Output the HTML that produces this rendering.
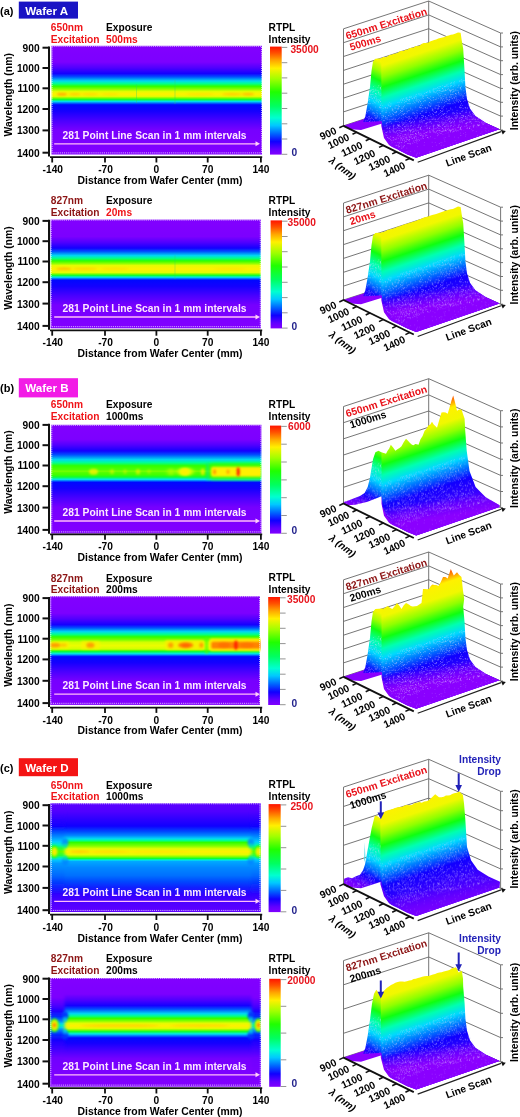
<!DOCTYPE html>
<html lang="en">
<head>
<meta charset="utf-8">
<title>RTPL line scans of wafers A, B and D</title>
<style>
html,body{margin:0;padding:0;background:#fff}
svg{display:block}
text{font-family:"Liberation Sans",sans-serif;font-weight:bold;font-size:10.2px}
</style>
</head>
<body>
<svg width="520" height="1117" viewBox="0 0 520 1117">
<defs>
<linearGradient id="cbar" x1="0" y1="0" x2="0" y2="1"><stop offset="0.0000" stop-color="#ff1400"/><stop offset="0.0600" stop-color="#ff5000"/><stop offset="0.1300" stop-color="#ffa800"/><stop offset="0.2000" stop-color="#fff000"/><stop offset="0.3000" stop-color="#a0ff00"/><stop offset="0.4200" stop-color="#20ff00"/><stop offset="0.5500" stop-color="#00ff60"/><stop offset="0.6600" stop-color="#00ffd0"/><stop offset="0.7300" stop-color="#00c8ff"/><stop offset="0.8100" stop-color="#0060ff"/><stop offset="0.8800" stop-color="#1000ff"/><stop offset="0.9500" stop-color="#6000ff"/><stop offset="1.0000" stop-color="#8000ff"/></linearGradient>
<filter id="b1" x="-30%" y="-60%" width="160%" height="220%"><feGaussianBlur stdDeviation="1.1"/></filter>
<filter id="b2" x="-30%" y="-60%" width="160%" height="220%"><feGaussianBlur stdDeviation="2 1.2"/></filter>
<clipPath id="hmclip"><rect x="50.4" y="45.8" width="210.2" height="108.7"/></clipPath>
<filter id="b3" x="-40%" y="-5%" width="180%" height="110%"><feGaussianBlur stdDeviation="1.6 .4"/></filter>
<linearGradient id="pin1" x1="0" y1="0" x2="0" y2="1"><stop offset="0.0000" stop-color="#5c00ff"/><stop offset="0.0754" stop-color="#5000ff"/><stop offset="0.1490" stop-color="#2c00ff"/><stop offset="0.2098" stop-color="#1000ff"/><stop offset="0.2594" stop-color="#0048ff"/><stop offset="0.3054" stop-color="#0088ff"/><stop offset="0.3514" stop-color="#00c8ff"/><stop offset="0.3836" stop-color="#00f0c0"/><stop offset="0.4112" stop-color="#20ff40"/><stop offset="0.4453" stop-color="#60ff00"/><stop offset="0.4802" stop-color="#20ff40"/><stop offset="0.5032" stop-color="#00f0c0"/><stop offset="0.5262" stop-color="#00c0ff"/><stop offset="0.5538" stop-color="#0098ff"/><stop offset="0.6090" stop-color="#0080ff"/><stop offset="0.6642" stop-color="#0068ff"/><stop offset="0.7194" stop-color="#0040ff"/><stop offset="0.7746" stop-color="#1020ff"/><stop offset="0.8390" stop-color="#3000ff"/><stop offset="0.9218" stop-color="#5000ff"/><stop offset="1.0000" stop-color="#6000ff"/></linearGradient>
<clipPath id="pin1c"><rect x="50.4" y="45.8" width="210.2" height="108.7"/></clipPath>
<linearGradient id="pin2" x1="0" y1="0" x2="0" y2="1"><stop offset="0.0000" stop-color="#8200ff"/><stop offset="0.1858" stop-color="#7c00ff"/><stop offset="0.2594" stop-color="#5000ff"/><stop offset="0.3146" stop-color="#2000ff"/><stop offset="0.3698" stop-color="#0030ff"/><stop offset="0.4066" stop-color="#0080ff"/><stop offset="0.4296" stop-color="#00d0f0"/><stop offset="0.4480" stop-color="#00f0c0"/><stop offset="0.4664" stop-color="#00d0f0"/><stop offset="0.4894" stop-color="#0080ff"/><stop offset="0.5262" stop-color="#0030ff"/><stop offset="0.5814" stop-color="#1400ff"/><stop offset="0.6642" stop-color="#4000ff"/><stop offset="0.7470" stop-color="#7000ff"/><stop offset="1.0000" stop-color="#8200ff"/></linearGradient>
<clipPath id="pin2c"><rect x="50.4" y="47.0" width="210.2" height="108.7"/></clipPath>
<linearGradient id="subg" gradientUnits="userSpaceOnUse" x1="375.00" y1="37.23" x2="333.91" y2="121.10"><stop offset="0.0000" stop-color="#ff1000"/><stop offset="0.0769" stop-color="#ff7800"/><stop offset="0.1442" stop-color="#fff000"/><stop offset="0.2115" stop-color="#f4f800"/><stop offset="0.2981" stop-color="#a0ff00"/><stop offset="0.3942" stop-color="#10ff10"/><stop offset="0.5096" stop-color="#00ffb0"/><stop offset="0.6250" stop-color="#00d8ff"/><stop offset="0.7212" stop-color="#0070ff"/><stop offset="0.8077" stop-color="#1000ff"/><stop offset="0.9038" stop-color="#6000ff"/><stop offset="1.0000" stop-color="#8a00ff"/></linearGradient>
<linearGradient id="surf" gradientUnits="userSpaceOnUse" x1="381.00" y1="36.00" x2="420.88" y2="156.84"><stop offset="0.0000" stop-color="#ff1000"/><stop offset="0.0672" stop-color="#ff7800"/><stop offset="0.1269" stop-color="#fff000"/><stop offset="0.2239" stop-color="#f0f800"/><stop offset="0.3060" stop-color="#90ff00"/><stop offset="0.3843" stop-color="#10ff10"/><stop offset="0.4627" stop-color="#00ffb0"/><stop offset="0.5328" stop-color="#00d8ff"/><stop offset="0.6119" stop-color="#0070ff"/><stop offset="0.6940" stop-color="#1000ff"/><stop offset="0.8507" stop-color="#4000ff"/><stop offset="1.0000" stop-color="#6000ff"/></linearGradient>
<linearGradient id="surfc" gradientUnits="userSpaceOnUse" x1="381.00" y1="36.00" x2="420.88" y2="156.84"><stop offset="0.0000" stop-color="#ff1000"/><stop offset="0.0672" stop-color="#ff7800"/><stop offset="0.1269" stop-color="#fff000"/><stop offset="0.2239" stop-color="#f0f800"/><stop offset="0.3060" stop-color="#90ff00"/><stop offset="0.3843" stop-color="#10ff10"/><stop offset="0.4627" stop-color="#00ffb0"/><stop offset="0.5328" stop-color="#00d8ff"/><stop offset="0.6119" stop-color="#0070ff"/><stop offset="0.6940" stop-color="#1000ff"/><stop offset="0.8507" stop-color="#4000ff"/><stop offset="1.0000" stop-color="#6000ff"/></linearGradient>
<clipPath id="subclip"><path d="M340 92L384 84V135H340Z"/></clipPath>
<linearGradient id="purp" gradientUnits="userSpaceOnUse" x1="381.00" y1="123.00" x2="383.57" y2="139.60"><stop offset="0" stop-color="#8a00ff" stop-opacity="0"/><stop offset=".5" stop-color="#8a00ff" stop-opacity=".55"/><stop offset="1" stop-color="#8a00ff" stop-opacity="1"/></linearGradient>
<linearGradient id="purpc" gradientUnits="userSpaceOnUse" x1="381.00" y1="138.00" x2="385.24" y2="165.34"><stop offset="0" stop-color="#7c00ff" stop-opacity="0"/><stop offset=".5" stop-color="#7c00ff" stop-opacity=".55"/><stop offset="1" stop-color="#7c00ff" stop-opacity="1"/></linearGradient>
<linearGradient id="purpb" gradientUnits="userSpaceOnUse" x1="381.00" y1="130.00" x2="383.88" y2="148.55"><stop offset="0" stop-color="#8a00ff" stop-opacity="0"/><stop offset=".5" stop-color="#8a00ff" stop-opacity=".55"/><stop offset="1" stop-color="#8a00ff" stop-opacity="1"/></linearGradient>
<pattern id="spk" width="40" height="40" patternUnits="userSpaceOnUse"><g fill="#e4dcff" fill-opacity=".6"><rect x="13.0" y="6.0" width=".65" height=".65"/><rect x="26.0" y="2.9" width=".65" height=".65"/><rect x="21.4" y="14.6" width=".65" height=".65"/><rect x="2.3" y="20.3" width=".65" height=".65"/><rect x="1.5" y="17.3" width=".65" height=".65"/><rect x="2.8" y="3.6" width=".65" height=".65"/><rect x="17.0" y="33.1" width=".65" height=".65"/><rect x="5.0" y="8.9" width=".65" height=".65"/><rect x="25.1" y="37.9" width=".65" height=".65"/><rect x="23.1" y="15.9" width=".65" height=".65"/><rect x="39.1" y="1.9" width=".65" height=".65"/><rect x="34.3" y="11.6" width=".65" height=".65"/><rect x="5.8" y="4.7" width=".65" height=".65"/><rect x="12.3" y="32.6" width=".65" height=".65"/><rect x="7.2" y="23.3" width=".65" height=".65"/><rect x="25.6" y="14.9" width=".65" height=".65"/><rect x="21.9" y="2.5" width=".65" height=".65"/><rect x="2.4" y="8.2" width=".65" height=".65"/><rect x="27.2" y="17.1" width=".65" height=".65"/><rect x="12.6" y="23.4" width=".65" height=".65"/><rect x="18.1" y="12.0" width=".65" height=".65"/><rect x="31.8" y="28.0" width=".65" height=".65"/><rect x="9.8" y="23.0" width=".65" height=".65"/><rect x="21.0" y="35.0" width=".65" height=".65"/><rect x="29.2" y="11.5" width=".65" height=".65"/><rect x="39.2" y="4.7" width=".65" height=".65"/><rect x="16.7" y="30.3" width=".65" height=".65"/><rect x="6.1" y="19.6" width=".65" height=".65"/><rect x="1.6" y="26.7" width=".65" height=".65"/><rect x="30.6" y="22.9" width=".65" height=".65"/><rect x="35.0" y="12.5" width=".65" height=".65"/><rect x="27.8" y="23.8" width=".65" height=".65"/><rect x="23.2" y="18.2" width=".65" height=".65"/><rect x="33.6" y="37.8" width=".65" height=".65"/><rect x="19.0" y="26.6" width=".65" height=".65"/><rect x="2.4" y="28.1" width=".65" height=".65"/><rect x="25.9" y="39.7" width=".65" height=".65"/><rect x="32.9" y="11.4" width=".65" height=".65"/><rect x="15.4" y="26.7" width=".65" height=".65"/><rect x="0.9" y="18.5" width=".65" height=".65"/><rect x="6.7" y="4.7" width=".65" height=".65"/><rect x="2.4" y="30.7" width=".65" height=".65"/><rect x="5.2" y="9.9" width=".65" height=".65"/><rect x="15.6" y="34.9" width=".65" height=".65"/><rect x="3.2" y="18.0" width=".65" height=".65"/><rect x="22.0" y="35.3" width=".65" height=".65"/><rect x="32.8" y="34.6" width=".65" height=".65"/><rect x="11.1" y="16.6" width=".65" height=".65"/><rect x="14.4" y="35.4" width=".65" height=".65"/><rect x="38.3" y="6.0" width=".65" height=".65"/><rect x="7.0" y="9.3" width=".65" height=".65"/><rect x="9.3" y="19.4" width=".65" height=".65"/><rect x="23.6" y="10.5" width=".65" height=".65"/><rect x="0.2" y="16.8" width=".65" height=".65"/><rect x="14.8" y="22.7" width=".65" height=".65"/><rect x="38.1" y="27.6" width=".65" height=".65"/><rect x="20.6" y="24.7" width=".65" height=".65"/><rect x="27.0" y="2.2" width=".65" height=".65"/><rect x="36.0" y="31.2" width=".65" height=".65"/><rect x="35.0" y="31.9" width=".65" height=".65"/><rect x="15.7" y="16.0" width=".65" height=".65"/><rect x="4.1" y="25.4" width=".65" height=".65"/><rect x="2.5" y="2.7" width=".65" height=".65"/><rect x="8.4" y="6.5" width=".65" height=".65"/><rect x="13.6" y="2.1" width=".65" height=".65"/><rect x="0.0" y="6.1" width=".65" height=".65"/><rect x="4.1" y="14.5" width=".65" height=".65"/><rect x="1.0" y="35.0" width=".65" height=".65"/><rect x="24.6" y="5.9" width=".65" height=".65"/><rect x="10.1" y="13.9" width=".65" height=".65"/><rect x="14.6" y="4.9" width=".65" height=".65"/><rect x="34.0" y="39.7" width=".65" height=".65"/><rect x="18.6" y="19.4" width=".65" height=".65"/><rect x="3.4" y="4.1" width=".65" height=".65"/><rect x="13.7" y="10.6" width=".65" height=".65"/><rect x="33.2" y="6.5" width=".65" height=".65"/><rect x="0.9" y="38.0" width=".65" height=".65"/><rect x="21.1" y="5.9" width=".65" height=".65"/><rect x="21.7" y="1.1" width=".65" height=".65"/><rect x="21.1" y="39.1" width=".65" height=".65"/><rect x="34.5" y="27.8" width=".65" height=".65"/><rect x="10.4" y="14.7" width=".65" height=".65"/><rect x="6.7" y="30.9" width=".65" height=".65"/><rect x="21.3" y="31.2" width=".65" height=".65"/><rect x="13.2" y="8.9" width=".65" height=".65"/><rect x="32.5" y="39.4" width=".65" height=".65"/><rect x="34.1" y="32.2" width=".65" height=".65"/><rect x="32.7" y="29.6" width=".65" height=".65"/><rect x="9.1" y="20.7" width=".65" height=".65"/><rect x="14.2" y="1.2" width=".65" height=".65"/><rect x="1.1" y="11.2" width=".65" height=".65"/><rect x="10.4" y="27.7" width=".65" height=".65"/><rect x="38.3" y="17.9" width=".65" height=".65"/><rect x="37.5" y="39.5" width=".65" height=".65"/><rect x="38.2" y="14.6" width=".65" height=".65"/><rect x="8.8" y="9.1" width=".65" height=".65"/><rect x="7.9" y="8.2" width=".65" height=".65"/><rect x="25.0" y="36.0" width=".65" height=".65"/><rect x="33.6" y="19.2" width=".65" height=".65"/><rect x="26.1" y="32.0" width=".65" height=".65"/><rect x="3.4" y="26.4" width=".65" height=".65"/><rect x="36.4" y="31.3" width=".65" height=".65"/><rect x="30.0" y="19.1" width=".65" height=".65"/><rect x="7.1" y="31.6" width=".65" height=".65"/><rect x="13.3" y="32.0" width=".65" height=".65"/><rect x="38.9" y="15.8" width=".65" height=".65"/><rect x="16.1" y="37.9" width=".65" height=".65"/><rect x="29.0" y="6.8" width=".65" height=".65"/><rect x="5.1" y="6.0" width=".65" height=".65"/><rect x="36.2" y="32.3" width=".65" height=".65"/><rect x="5.8" y="33.1" width=".65" height=".65"/><rect x="39.2" y="26.3" width=".65" height=".65"/><rect x="14.0" y="21.9" width=".65" height=".65"/><rect x="5.2" y="0.6" width=".65" height=".65"/><rect x="38.8" y="26.0" width=".65" height=".65"/><rect x="21.1" y="37.3" width=".65" height=".65"/><rect x="17.4" y="34.9" width=".65" height=".65"/><rect x="33.0" y="8.4" width=".65" height=".65"/><rect x="10.1" y="11.7" width=".65" height=".65"/><rect x="9.6" y="23.5" width=".65" height=".65"/><rect x="10.4" y="16.8" width=".65" height=".65"/><rect x="5.2" y="36.4" width=".65" height=".65"/><rect x="14.2" y="18.3" width=".65" height=".65"/><rect x="23.3" y="36.2" width=".65" height=".65"/><rect x="16.8" y="36.7" width=".65" height=".65"/><rect x="20.1" y="21.3" width=".65" height=".65"/><rect x="20.9" y="0.7" width=".65" height=".65"/><rect x="17.6" y="7.3" width=".65" height=".65"/><rect x="0.2" y="32.0" width=".65" height=".65"/><rect x="6.9" y="18.9" width=".65" height=".65"/><rect x="29.0" y="22.3" width=".65" height=".65"/><rect x="13.0" y="20.7" width=".65" height=".65"/><rect x="22.2" y="31.4" width=".65" height=".65"/><rect x="4.2" y="22.4" width=".65" height=".65"/><rect x="9.9" y="11.1" width=".65" height=".65"/><rect x="30.9" y="20.3" width=".65" height=".65"/><rect x="22.5" y="30.4" width=".65" height=".65"/><rect x="36.5" y="17.7" width=".65" height=".65"/><rect x="24.5" y="20.2" width=".65" height=".65"/><rect x="20.5" y="27.7" width=".65" height=".65"/><rect x="18.1" y="21.3" width=".65" height=".65"/><rect x="19.1" y="37.7" width=".65" height=".65"/><rect x="28.0" y="35.1" width=".65" height=".65"/><rect x="37.7" y="10.4" width=".65" height=".65"/><rect x="22.4" y="37.7" width=".65" height=".65"/><rect x="33.6" y="5.5" width=".65" height=".65"/><rect x="4.9" y="17.7" width=".65" height=".65"/><rect x="2.9" y="9.6" width=".65" height=".65"/><rect x="2.9" y="26.8" width=".65" height=".65"/><rect x="31.4" y="35.9" width=".65" height=".65"/><rect x="6.2" y="28.6" width=".65" height=".65"/><rect x="26.4" y="5.7" width=".65" height=".65"/><rect x="35.3" y="38.7" width=".65" height=".65"/><rect x="8.8" y="38.1" width=".65" height=".65"/><rect x="15.9" y="19.5" width=".65" height=".65"/><rect x="39.6" y="33.3" width=".65" height=".65"/><rect x="6.5" y="17.3" width=".65" height=".65"/><rect x="20.6" y="13.6" width=".65" height=".65"/><rect x="7.8" y="12.7" width=".65" height=".65"/><rect x="28.9" y="0.8" width=".65" height=".65"/><rect x="22.2" y="17.6" width=".65" height=".65"/><rect x="0.7" y="13.3" width=".65" height=".65"/><rect x="25.0" y="20.5" width=".65" height=".65"/><rect x="2.6" y="39.4" width=".65" height=".65"/><rect x="31.5" y="38.9" width=".65" height=".65"/><rect x="4.2" y="10.6" width=".65" height=".65"/><rect x="1.6" y="31.2" width=".65" height=".65"/><rect x="10.8" y="5.2" width=".65" height=".65"/><rect x="16.9" y="36.5" width=".65" height=".65"/><rect x="32.8" y="10.3" width=".65" height=".65"/><rect x="6.0" y="36.8" width=".65" height=".65"/><rect x="22.8" y="28.0" width=".65" height=".65"/><rect x="3.6" y="2.3" width=".65" height=".65"/><rect x="27.5" y="17.0" width=".65" height=".65"/><rect x="2.9" y="37.5" width=".65" height=".65"/><rect x="25.4" y="32.1" width=".65" height=".65"/><rect x="3.3" y="34.2" width=".65" height=".65"/><rect x="2.7" y="34.5" width=".65" height=".65"/><rect x="18.2" y="13.6" width=".65" height=".65"/><rect x="22.1" y="37.1" width=".65" height=".65"/><rect x="10.7" y="5.2" width=".65" height=".65"/><rect x="21.1" y="9.5" width=".65" height=".65"/><rect x="4.4" y="6.5" width=".65" height=".65"/><rect x="2.0" y="8.1" width=".65" height=".65"/><rect x="12.5" y="12.2" width=".65" height=".65"/><rect x="30.4" y="11.6" width=".65" height=".65"/><rect x="20.0" y="7.1" width=".65" height=".65"/><rect x="13.9" y="0.7" width=".65" height=".65"/><rect x="10.0" y="0.6" width=".65" height=".65"/><rect x="29.3" y="22.0" width=".65" height=".65"/><rect x="7.6" y="19.0" width=".65" height=".65"/><rect x="37.4" y="4.3" width=".65" height=".65"/><rect x="32.8" y="17.3" width=".65" height=".65"/><rect x="19.8" y="33.4" width=".65" height=".65"/><rect x="15.7" y="20.3" width=".65" height=".65"/><rect x="27.5" y="39.3" width=".65" height=".65"/><rect x="13.7" y="33.3" width=".65" height=".65"/><rect x="28.3" y="25.4" width=".65" height=".65"/><rect x="16.2" y="13.9" width=".65" height=".65"/><rect x="2.2" y="5.2" width=".65" height=".65"/><rect x="2.8" y="29.6" width=".65" height=".65"/><rect x="10.2" y="6.5" width=".65" height=".65"/><rect x="3.4" y="33.7" width=".65" height=".65"/><rect x="34.8" y="26.8" width=".65" height=".65"/><rect x="11.3" y="9.7" width=".65" height=".65"/><rect x="11.7" y="18.4" width=".65" height=".65"/><rect x="6.3" y="17.8" width=".65" height=".65"/><rect x="10.5" y="38.5" width=".65" height=".65"/><rect x="38.9" y="21.9" width=".65" height=".65"/><rect x="9.8" y="38.6" width=".65" height=".65"/><rect x="12.4" y="14.3" width=".65" height=".65"/><rect x="0.0" y="15.3" width=".65" height=".65"/><rect x="19.0" y="20.1" width=".65" height=".65"/><rect x="8.0" y="20.2" width=".65" height=".65"/><rect x="0.2" y="10.6" width=".65" height=".65"/><rect x="3.6" y="16.0" width=".65" height=".65"/><rect x="1.7" y="0.9" width=".65" height=".65"/><rect x="12.2" y="9.3" width=".65" height=".65"/><rect x="23.4" y="21.2" width=".65" height=".65"/><rect x="30.0" y="26.3" width=".65" height=".65"/><rect x="28.6" y="35.2" width=".65" height=".65"/><rect x="15.6" y="13.0" width=".65" height=".65"/><rect x="39.4" y="6.0" width=".65" height=".65"/><rect x="29.0" y="25.7" width=".65" height=".65"/><rect x="1.8" y="33.4" width=".65" height=".65"/><rect x="35.7" y="25.1" width=".65" height=".65"/><rect x="29.4" y="32.5" width=".65" height=".65"/><rect x="5.6" y="21.0" width=".65" height=".65"/><rect x="20.2" y="33.4" width=".65" height=".65"/><rect x="32.2" y="33.1" width=".65" height=".65"/><rect x="23.4" y="35.7" width=".65" height=".65"/><rect x="27.3" y="27.7" width=".65" height=".65"/><rect x="9.2" y="1.2" width=".65" height=".65"/><rect x="5.3" y="14.4" width=".65" height=".65"/><rect x="4.2" y="33.4" width=".65" height=".65"/><rect x="22.3" y="25.1" width=".65" height=".65"/><rect x="25.0" y="27.2" width=".65" height=".65"/><rect x="19.6" y="0.1" width=".65" height=".65"/><rect x="31.9" y="29.9" width=".65" height=".65"/><rect x="20.1" y="21.4" width=".65" height=".65"/><rect x="26.4" y="2.6" width=".65" height=".65"/><rect x="29.5" y="10.1" width=".65" height=".65"/><rect x="3.0" y="10.6" width=".65" height=".65"/><rect x="29.2" y="8.2" width=".65" height=".65"/><rect x="29.6" y="39.0" width=".65" height=".65"/><rect x="19.8" y="15.3" width=".65" height=".65"/><rect x="19.2" y="27.3" width=".65" height=".65"/><rect x="30.7" y="24.7" width=".65" height=".65"/><rect x="25.7" y="3.1" width=".65" height=".65"/><rect x="5.9" y="10.2" width=".65" height=".65"/><rect x="29.7" y="12.2" width=".65" height=".65"/><rect x="22.7" y="0.5" width=".65" height=".65"/><rect x="2.4" y="10.8" width=".65" height=".65"/><rect x="26.9" y="27.7" width=".65" height=".65"/><rect x="27.0" y="11.6" width=".65" height=".65"/><rect x="20.7" y="18.6" width=".65" height=".65"/><rect x="18.7" y="4.7" width=".65" height=".65"/><rect x="35.7" y="8.0" width=".65" height=".65"/><rect x="39.1" y="37.5" width=".65" height=".65"/><rect x="0.7" y="18.4" width=".65" height=".65"/><rect x="32.8" y="38.7" width=".65" height=".65"/><rect x="18.0" y="10.7" width=".65" height=".65"/><rect x="8.4" y="37.8" width=".65" height=".65"/><rect x="8.4" y="23.3" width=".65" height=".65"/><rect x="5.7" y="21.0" width=".65" height=".65"/><rect x="38.1" y="5.3" width=".65" height=".65"/><rect x="32.8" y="20.3" width=".65" height=".65"/><rect x="35.5" y="28.1" width=".65" height=".65"/><rect x="9.3" y="35.9" width=".65" height=".65"/><rect x="19.4" y="1.0" width=".65" height=".65"/><rect x="0.1" y="19.7" width=".65" height=".65"/><rect x="18.0" y="12.1" width=".65" height=".65"/><rect x="5.6" y="13.8" width=".65" height=".65"/><rect x="12.6" y="33.6" width=".65" height=".65"/><rect x="0.1" y="30.0" width=".65" height=".65"/><rect x="33.6" y="4.8" width=".65" height=".65"/><rect x="37.1" y="28.5" width=".65" height=".65"/><rect x="36.1" y="11.6" width=".65" height=".65"/><rect x="14.9" y="15.7" width=".65" height=".65"/><rect x="40.0" y="23.6" width=".65" height=".65"/><rect x="14.4" y="17.1" width=".65" height=".65"/><rect x="11.0" y="1.9" width=".65" height=".65"/><rect x="4.1" y="33.4" width=".65" height=".65"/><rect x="11.4" y="37.4" width=".65" height=".65"/><rect x="10.0" y="10.6" width=".65" height=".65"/><rect x="20.4" y="7.6" width=".65" height=".65"/><rect x="14.9" y="38.2" width=".65" height=".65"/><rect x="35.4" y="32.5" width=".65" height=".65"/><rect x="25.2" y="36.5" width=".65" height=".65"/><rect x="37.6" y="22.0" width=".65" height=".65"/><rect x="28.8" y="2.0" width=".65" height=".65"/><rect x="29.3" y="18.0" width=".65" height=".65"/><rect x="30.1" y="25.8" width=".65" height=".65"/><rect x="11.4" y="2.0" width=".65" height=".65"/><rect x="37.1" y="5.1" width=".65" height=".65"/><rect x="18.9" y="13.7" width=".65" height=".65"/><rect x="11.9" y="29.6" width=".65" height=".65"/><rect x="39.1" y="10.4" width=".65" height=".65"/><rect x="26.2" y="12.0" width=".65" height=".65"/><rect x="22.3" y="15.8" width=".65" height=".65"/><rect x="6.7" y="6.5" width=".65" height=".65"/><rect x="8.3" y="36.2" width=".65" height=".65"/><rect x="19.9" y="8.8" width=".65" height=".65"/><rect x="36.3" y="39.9" width=".65" height=".65"/><rect x="18.0" y="5.6" width=".65" height=".65"/><rect x="7.7" y="3.6" width=".65" height=".65"/><rect x="13.7" y="3.6" width=".65" height=".65"/><rect x="9.6" y="10.3" width=".65" height=".65"/><rect x="22.8" y="35.5" width=".65" height=".65"/><rect x="30.0" y="16.5" width=".65" height=".65"/><rect x="16.6" y="21.0" width=".65" height=".65"/><rect x="15.1" y="13.5" width=".65" height=".65"/><rect x="2.5" y="11.1" width=".65" height=".65"/><rect x="38.7" y="5.0" width=".65" height=".65"/><rect x="20.1" y="25.2" width=".65" height=".65"/><rect x="34.5" y="8.6" width=".65" height=".65"/><rect x="10.8" y="9.9" width=".65" height=".65"/><rect x="16.0" y="17.8" width=".65" height=".65"/><rect x="38.2" y="33.9" width=".65" height=".65"/><rect x="34.9" y="0.9" width=".65" height=".65"/><rect x="1.3" y="28.4" width=".65" height=".65"/><rect x="35.8" y="18.9" width=".65" height=".65"/><rect x="23.5" y="0.0" width=".65" height=".65"/><rect x="15.7" y="37.1" width=".65" height=".65"/><rect x="33.0" y="34.2" width=".65" height=".65"/><rect x="38.9" y="9.9" width=".65" height=".65"/><rect x="4.4" y="6.2" width=".65" height=".65"/><rect x="20.9" y="27.3" width=".65" height=".65"/><rect x="37.7" y="28.9" width=".65" height=".65"/><rect x="25.9" y="30.6" width=".65" height=".65"/><rect x="18.3" y="22.1" width=".65" height=".65"/><rect x="1.6" y="31.3" width=".65" height=".65"/><rect x="9.3" y="36.8" width=".65" height=".65"/><rect x="25.8" y="12.2" width=".65" height=".65"/><rect x="5.1" y="10.1" width=".65" height=".65"/><rect x="25.5" y="27.9" width=".65" height=".65"/><rect x="4.5" y="2.8" width=".65" height=".65"/><rect x="21.0" y="23.3" width=".65" height=".65"/><rect x="15.5" y="8.9" width=".65" height=".65"/><rect x="24.0" y="0.4" width=".65" height=".65"/><rect x="12.1" y="18.4" width=".65" height=".65"/><rect x="38.4" y="25.8" width=".65" height=".65"/><rect x="35.4" y="19.0" width=".65" height=".65"/><rect x="9.4" y="9.9" width=".65" height=".65"/><rect x="38.4" y="28.2" width=".65" height=".65"/><rect x="12.3" y="0.9" width=".65" height=".65"/><rect x="19.9" y="27.0" width=".65" height=".65"/><rect x="16.8" y="10.3" width=".65" height=".65"/><rect x="26.7" y="37.0" width=".65" height=".65"/><rect x="9.1" y="1.4" width=".65" height=".65"/><rect x="13.5" y="16.8" width=".65" height=".65"/><rect x="27.3" y="7.9" width=".65" height=".65"/><rect x="31.9" y="29.6" width=".65" height=".65"/><rect x="20.2" y="8.2" width=".65" height=".65"/><rect x="38.8" y="12.5" width=".65" height=".65"/><rect x="32.8" y="9.2" width=".65" height=".65"/><rect x="8.9" y="30.4" width=".65" height=".65"/><rect x="11.8" y="38.1" width=".65" height=".65"/><rect x="19.8" y="7.5" width=".65" height=".65"/><rect x="8.9" y="16.7" width=".65" height=".65"/><rect x="26.6" y="38.0" width=".65" height=".65"/><rect x="5.9" y="15.7" width=".65" height=".65"/><rect x="8.5" y="39.0" width=".65" height=".65"/><rect x="5.7" y="2.1" width=".65" height=".65"/><rect x="2.4" y="15.7" width=".65" height=".65"/><rect x="35.9" y="35.3" width=".65" height=".65"/><rect x="29.3" y="39.9" width=".65" height=".65"/><rect x="37.3" y="13.2" width=".65" height=".65"/><rect x="7.4" y="37.4" width=".65" height=".65"/><rect x="29.9" y="1.3" width=".65" height=".65"/><rect x="26.6" y="15.1" width=".65" height=".65"/><rect x="15.0" y="13.3" width=".65" height=".65"/><rect x="6.8" y="0.1" width=".65" height=".65"/><rect x="11.2" y="14.1" width=".65" height=".65"/><rect x="38.2" y="4.9" width=".65" height=".65"/><rect x="38.6" y="8.3" width=".65" height=".65"/><rect x="14.3" y="32.9" width=".65" height=".65"/><rect x="32.9" y="17.3" width=".65" height=".65"/><rect x="2.0" y="18.9" width=".65" height=".65"/><rect x="14.9" y="36.8" width=".65" height=".65"/><rect x="7.7" y="14.6" width=".65" height=".65"/><rect x="35.9" y="1.2" width=".65" height=".65"/><rect x="16.4" y="32.5" width=".65" height=".65"/><rect x="30.7" y="1.6" width=".65" height=".65"/><rect x="1.4" y="2.5" width=".65" height=".65"/><rect x="36.8" y="10.3" width=".65" height=".65"/><rect x="29.9" y="35.9" width=".65" height=".65"/><rect x="13.6" y="10.9" width=".65" height=".65"/><rect x="38.3" y="24.7" width=".65" height=".65"/><rect x="10.5" y="28.7" width=".65" height=".65"/><rect x="12.7" y="11.0" width=".65" height=".65"/><rect x="0.2" y="30.2" width=".65" height=".65"/><rect x="36.7" y="25.4" width=".65" height=".65"/><rect x="37.7" y="1.0" width=".65" height=".65"/><rect x="9.4" y="19.0" width=".65" height=".65"/><rect x="38.3" y="38.2" width=".65" height=".65"/><rect x="15.5" y="10.0" width=".65" height=".65"/><rect x="17.2" y="19.7" width=".65" height=".65"/><rect x="37.1" y="7.3" width=".65" height=".65"/><rect x="32.1" y="29.5" width=".65" height=".65"/><rect x="32.9" y="30.9" width=".65" height=".65"/><rect x="24.3" y="13.1" width=".65" height=".65"/><rect x="12.8" y="14.5" width=".65" height=".65"/><rect x="31.3" y="3.2" width=".65" height=".65"/><rect x="7.9" y="30.1" width=".65" height=".65"/><rect x="9.9" y="2.6" width=".65" height=".65"/><rect x="1.4" y="22.1" width=".65" height=".65"/><rect x="13.0" y="39.2" width=".65" height=".65"/><rect x="35.3" y="39.5" width=".65" height=".65"/><rect x="10.6" y="3.4" width=".65" height=".65"/><rect x="3.9" y="19.9" width=".65" height=".65"/><rect x="28.4" y="17.9" width=".65" height=".65"/><rect x="9.4" y="16.7" width=".65" height=".65"/><rect x="24.8" y="27.0" width=".65" height=".65"/><rect x="29.9" y="33.9" width=".65" height=".65"/><rect x="26.6" y="4.8" width=".65" height=".65"/><rect x="33.6" y="11.8" width=".65" height=".65"/><rect x="22.7" y="14.9" width=".65" height=".65"/><rect x="29.5" y="8.0" width=".65" height=".65"/><rect x="9.9" y="9.8" width=".65" height=".65"/></g></pattern>
<pattern id="spk2" width="40" height="40" patternUnits="userSpaceOnUse"><g fill="#e4dcff" fill-opacity=".32"><rect x="6.1" y="35.4" width=".65" height=".65"/><rect x="23.1" y="13.1" width=".65" height=".65"/><rect x="15.8" y="39.7" width=".65" height=".65"/><rect x="20.3" y="9.3" width=".65" height=".65"/><rect x="32.3" y="26.1" width=".65" height=".65"/><rect x="39.6" y="4.1" width=".65" height=".65"/><rect x="19.0" y="32.8" width=".65" height=".65"/><rect x="33.6" y="36.6" width=".65" height=".65"/><rect x="1.6" y="11.7" width=".65" height=".65"/><rect x="4.8" y="7.6" width=".65" height=".65"/><rect x="38.9" y="23.3" width=".65" height=".65"/><rect x="37.2" y="14.9" width=".65" height=".65"/><rect x="34.6" y="18.0" width=".65" height=".65"/><rect x="10.4" y="31.1" width=".65" height=".65"/><rect x="37.8" y="4.2" width=".65" height=".65"/><rect x="23.8" y="24.8" width=".65" height=".65"/><rect x="8.7" y="14.7" width=".65" height=".65"/><rect x="5.7" y="8.2" width=".65" height=".65"/><rect x="10.2" y="24.0" width=".65" height=".65"/><rect x="26.1" y="8.1" width=".65" height=".65"/><rect x="0.5" y="13.1" width=".65" height=".65"/><rect x="27.1" y="7.4" width=".65" height=".65"/><rect x="12.5" y="8.1" width=".65" height=".65"/><rect x="31.8" y="21.9" width=".65" height=".65"/><rect x="2.5" y="4.1" width=".65" height=".65"/><rect x="15.8" y="22.0" width=".65" height=".65"/><rect x="25.6" y="3.6" width=".65" height=".65"/><rect x="6.5" y="27.8" width=".65" height=".65"/><rect x="16.4" y="11.3" width=".65" height=".65"/><rect x="12.3" y="38.1" width=".65" height=".65"/><rect x="12.5" y="22.7" width=".65" height=".65"/><rect x="14.3" y="16.7" width=".65" height=".65"/><rect x="34.6" y="39.9" width=".65" height=".65"/><rect x="14.6" y="7.9" width=".65" height=".65"/><rect x="29.1" y="8.1" width=".65" height=".65"/><rect x="0.2" y="36.1" width=".65" height=".65"/><rect x="17.0" y="32.8" width=".65" height=".65"/><rect x="16.2" y="35.3" width=".65" height=".65"/><rect x="18.4" y="6.5" width=".65" height=".65"/><rect x="0.6" y="22.1" width=".65" height=".65"/><rect x="25.6" y="36.4" width=".65" height=".65"/><rect x="3.6" y="24.9" width=".65" height=".65"/><rect x="14.8" y="20.2" width=".65" height=".65"/><rect x="5.8" y="11.3" width=".65" height=".65"/><rect x="20.8" y="37.0" width=".65" height=".65"/><rect x="4.4" y="19.6" width=".65" height=".65"/><rect x="32.2" y="38.7" width=".65" height=".65"/><rect x="7.9" y="5.1" width=".65" height=".65"/><rect x="37.7" y="39.0" width=".65" height=".65"/><rect x="19.3" y="2.1" width=".65" height=".65"/><rect x="37.0" y="15.5" width=".65" height=".65"/><rect x="36.2" y="24.8" width=".65" height=".65"/><rect x="33.0" y="6.4" width=".65" height=".65"/><rect x="31.4" y="8.9" width=".65" height=".65"/><rect x="16.2" y="33.9" width=".65" height=".65"/><rect x="33.2" y="7.3" width=".65" height=".65"/><rect x="8.7" y="16.0" width=".65" height=".65"/><rect x="20.7" y="15.3" width=".65" height=".65"/><rect x="4.9" y="9.9" width=".65" height=".65"/><rect x="29.0" y="35.9" width=".65" height=".65"/><rect x="1.6" y="22.5" width=".65" height=".65"/><rect x="30.3" y="1.5" width=".65" height=".65"/><rect x="33.5" y="4.7" width=".65" height=".65"/><rect x="24.0" y="22.0" width=".65" height=".65"/><rect x="25.1" y="12.2" width=".65" height=".65"/><rect x="16.8" y="23.3" width=".65" height=".65"/><rect x="17.0" y="26.4" width=".65" height=".65"/><rect x="17.9" y="17.5" width=".65" height=".65"/><rect x="0.9" y="24.8" width=".65" height=".65"/><rect x="19.6" y="9.4" width=".65" height=".65"/><rect x="30.5" y="31.2" width=".65" height=".65"/><rect x="18.3" y="7.2" width=".65" height=".65"/><rect x="18.9" y="4.3" width=".65" height=".65"/><rect x="5.1" y="17.2" width=".65" height=".65"/><rect x="3.7" y="17.7" width=".65" height=".65"/><rect x="20.4" y="1.6" width=".65" height=".65"/><rect x="25.5" y="3.3" width=".65" height=".65"/><rect x="29.3" y="31.1" width=".65" height=".65"/><rect x="20.5" y="2.2" width=".65" height=".65"/><rect x="20.2" y="15.1" width=".65" height=".65"/><rect x="38.0" y="5.4" width=".65" height=".65"/><rect x="34.3" y="39.8" width=".65" height=".65"/><rect x="29.3" y="32.6" width=".65" height=".65"/><rect x="7.7" y="39.3" width=".65" height=".65"/><rect x="19.7" y="38.3" width=".65" height=".65"/><rect x="36.6" y="6.6" width=".65" height=".65"/><rect x="31.5" y="37.2" width=".65" height=".65"/><rect x="2.6" y="14.0" width=".65" height=".65"/><rect x="30.2" y="6.4" width=".65" height=".65"/><rect x="35.9" y="11.0" width=".65" height=".65"/><rect x="32.6" y="5.7" width=".65" height=".65"/><rect x="20.1" y="36.8" width=".65" height=".65"/><rect x="8.3" y="10.5" width=".65" height=".65"/><rect x="20.2" y="12.8" width=".65" height=".65"/><rect x="1.5" y="7.3" width=".65" height=".65"/><rect x="6.4" y="37.5" width=".65" height=".65"/><rect x="27.2" y="35.8" width=".65" height=".65"/><rect x="6.7" y="31.4" width=".65" height=".65"/><rect x="4.6" y="21.2" width=".65" height=".65"/><rect x="25.5" y="14.4" width=".65" height=".65"/><rect x="34.9" y="22.2" width=".65" height=".65"/><rect x="23.2" y="35.3" width=".65" height=".65"/><rect x="4.2" y="39.7" width=".65" height=".65"/><rect x="25.2" y="15.8" width=".65" height=".65"/><rect x="31.9" y="10.6" width=".65" height=".65"/><rect x="39.6" y="23.1" width=".65" height=".65"/><rect x="14.4" y="30.6" width=".65" height=".65"/><rect x="17.7" y="7.1" width=".65" height=".65"/><rect x="29.7" y="1.9" width=".65" height=".65"/><rect x="32.8" y="10.1" width=".65" height=".65"/></g></pattern>
<linearGradient id="hg0" x1="0" y1="0" x2="0" y2="1"><stop offset="0.0000" stop-color="#8200ff"/><stop offset="0.1490" stop-color="#7c00ff"/><stop offset="0.2019" stop-color="#5000ff"/><stop offset="0.2548" stop-color="#1400ff"/><stop offset="0.2859" stop-color="#0050ff"/><stop offset="0.3238" stop-color="#00d8f0"/><stop offset="0.3482" stop-color="#00ff90"/><stop offset="0.3726" stop-color="#30ff00"/><stop offset="0.3970" stop-color="#80ff00"/><stop offset="0.4213" stop-color="#e4fc00"/><stop offset="0.4434" stop-color="#fff000"/><stop offset="0.4655" stop-color="#e4fc00"/><stop offset="0.4802" stop-color="#80ff00"/><stop offset="0.4949" stop-color="#10ff30"/><stop offset="0.5106" stop-color="#00e8e8"/><stop offset="0.5267" stop-color="#0070ff"/><stop offset="0.5428" stop-color="#0008ff"/><stop offset="0.6003" stop-color="#1400ff"/><stop offset="0.6854" stop-color="#4800ff"/><stop offset="0.7728" stop-color="#7600ff"/><stop offset="1.0000" stop-color="#8200ff"/></linearGradient>
<linearGradient id="hg1" x1="0" y1="0" x2="0" y2="1"><stop offset="0.0000" stop-color="#8200ff"/><stop offset="0.1564" stop-color="#7c00ff"/><stop offset="0.2093" stop-color="#5000ff"/><stop offset="0.2622" stop-color="#1400ff"/><stop offset="0.2932" stop-color="#0050ff"/><stop offset="0.3312" stop-color="#00d8f0"/><stop offset="0.3556" stop-color="#00ff90"/><stop offset="0.3799" stop-color="#30ff00"/><stop offset="0.4011" stop-color="#80ff00"/><stop offset="0.4223" stop-color="#e4fc00"/><stop offset="0.4545" stop-color="#fff000"/><stop offset="0.4867" stop-color="#e4fc00"/><stop offset="0.5000" stop-color="#80ff00"/><stop offset="0.5133" stop-color="#10ff30"/><stop offset="0.5299" stop-color="#00e8e8"/><stop offset="0.5432" stop-color="#0070ff"/><stop offset="0.5566" stop-color="#0008ff"/><stop offset="0.6141" stop-color="#1400ff"/><stop offset="0.6992" stop-color="#4800ff"/><stop offset="0.7866" stop-color="#7600ff"/><stop offset="0.9991" stop-color="#8200ff"/></linearGradient>
<linearGradient id="hg2" x1="0" y1="0" x2="0" y2="1"><stop offset="0.0000" stop-color="#8200ff"/><stop offset="0.1343" stop-color="#7c00ff"/><stop offset="0.1872" stop-color="#5000ff"/><stop offset="0.2401" stop-color="#1400ff"/><stop offset="0.2761" stop-color="#0050ff"/><stop offset="0.3201" stop-color="#00d8f0"/><stop offset="0.3487" stop-color="#00ff90"/><stop offset="0.3772" stop-color="#30ff00"/><stop offset="0.3951" stop-color="#40ff00"/><stop offset="0.4131" stop-color="#50ff00"/><stop offset="0.4269" stop-color="#78ff00"/><stop offset="0.4407" stop-color="#50ff00"/><stop offset="0.4604" stop-color="#40ff00"/><stop offset="0.4802" stop-color="#10ff30"/><stop offset="0.5023" stop-color="#00e8e8"/><stop offset="0.5156" stop-color="#0070ff"/><stop offset="0.5290" stop-color="#0008ff"/><stop offset="0.5865" stop-color="#1400ff"/><stop offset="0.6716" stop-color="#4800ff"/><stop offset="0.7590" stop-color="#7600ff"/><stop offset="0.9880" stop-color="#8200ff"/></linearGradient>
<linearGradient id="hg3" x1="0" y1="0" x2="0" y2="1"><stop offset="0.0000" stop-color="#8200ff"/><stop offset="0.1564" stop-color="#7c00ff"/><stop offset="0.2093" stop-color="#5000ff"/><stop offset="0.2622" stop-color="#1400ff"/><stop offset="0.2912" stop-color="#0050ff"/><stop offset="0.3266" stop-color="#00d8f0"/><stop offset="0.3505" stop-color="#00ff90"/><stop offset="0.3744" stop-color="#30ff00"/><stop offset="0.3988" stop-color="#70ff00"/><stop offset="0.4232" stop-color="#d0ff00"/><stop offset="0.4549" stop-color="#ecfc00"/><stop offset="0.4867" stop-color="#d0ff00"/><stop offset="0.4972" stop-color="#70ff00"/><stop offset="0.5078" stop-color="#10ff30"/><stop offset="0.5299" stop-color="#00e8e8"/><stop offset="0.5432" stop-color="#0070ff"/><stop offset="0.5566" stop-color="#0008ff"/><stop offset="0.6111" stop-color="#1400ff"/><stop offset="0.6918" stop-color="#4800ff"/><stop offset="0.7746" stop-color="#7600ff"/><stop offset="1.0000" stop-color="#8200ff"/></linearGradient>
<linearGradient id="hg4" x1="0" y1="0" x2="0" y2="1"><stop offset="0.0000" stop-color="#5c00ff"/><stop offset="0.0754" stop-color="#5000ff"/><stop offset="0.1490" stop-color="#2c00ff"/><stop offset="0.2098" stop-color="#1000ff"/><stop offset="0.2594" stop-color="#0048ff"/><stop offset="0.2962" stop-color="#0088ff"/><stop offset="0.3275" stop-color="#00e0f0"/><stop offset="0.3422" stop-color="#00ff90"/><stop offset="0.3606" stop-color="#30ff00"/><stop offset="0.3919" stop-color="#80ff00"/><stop offset="0.4186" stop-color="#e4fc00"/><stop offset="0.4453" stop-color="#fff000"/><stop offset="0.4729" stop-color="#e4fc00"/><stop offset="0.4922" stop-color="#80ff00"/><stop offset="0.5078" stop-color="#10ff30"/><stop offset="0.5225" stop-color="#00e8e8"/><stop offset="0.5354" stop-color="#00a8ff"/><stop offset="0.5906" stop-color="#0088ff"/><stop offset="0.6642" stop-color="#0070ff"/><stop offset="0.7194" stop-color="#0048ff"/><stop offset="0.7746" stop-color="#1020ff"/><stop offset="0.8390" stop-color="#3000ff"/><stop offset="0.9218" stop-color="#5000ff"/><stop offset="1.0000" stop-color="#6000ff"/></linearGradient>
<linearGradient id="hg5" x1="0" y1="0" x2="0" y2="1"><stop offset="0.0000" stop-color="#8200ff"/><stop offset="0.1472" stop-color="#7c00ff"/><stop offset="0.2006" stop-color="#5000ff"/><stop offset="0.2539" stop-color="#1400ff"/><stop offset="0.2874" stop-color="#0050ff"/><stop offset="0.3284" stop-color="#00d8f0"/><stop offset="0.3496" stop-color="#00ff90"/><stop offset="0.3707" stop-color="#30ff00"/><stop offset="0.3937" stop-color="#80ff00"/><stop offset="0.4167" stop-color="#e4fc00"/><stop offset="0.4402" stop-color="#fff000"/><stop offset="0.4637" stop-color="#e4fc00"/><stop offset="0.4784" stop-color="#80ff00"/><stop offset="0.4931" stop-color="#10ff30"/><stop offset="0.5143" stop-color="#00e8e8"/><stop offset="0.5327" stop-color="#0070ff"/><stop offset="0.5511" stop-color="#0008ff"/><stop offset="0.5996" stop-color="#1400ff"/><stop offset="0.6714" stop-color="#4800ff"/><stop offset="0.7452" stop-color="#7600ff"/><stop offset="0.9936" stop-color="#8200ff"/></linearGradient>
</defs>
<rect width="520" height="1117" fill="#fff"/>
<g transform="translate(0 0.0)">
<text x="50.8" y="31.3" fill="#f01418">650nm</text>
<text x="50.8" y="42.8" fill="#f01418">Excitation</text>
<text x="106" y="31.3">Exposure</text>
<text x="106" y="42.8" fill="#f01418">500ms</text>
<text x="268.6" y="30.9">RTPL</text>
<text x="268.6" y="42.8">Intensity</text>
<g transform="translate(0 0)">
<rect x="51.5" y="45.8" width="210.5" height="108.7" fill="url(#hg0)"/>
</g>
<g filter="url(#b1)"><ellipse cx="62" cy="94.2" rx="5" ry="1.3" fill="#ff9800" fill-opacity="0.8"/><ellipse cx="75" cy="94.2" rx="6" ry="1.1" fill="#ff9800" fill-opacity="0.45"/><ellipse cx="90" cy="94.2" rx="8" ry="1" fill="#ff9800" fill-opacity="0.3"/><ellipse cx="110" cy="94.2" rx="8" ry="1" fill="#ff9800" fill-opacity="0.2"/><ellipse cx="232" cy="94.2" rx="10" ry="1.1" fill="#ff9800" fill-opacity="0.45"/><ellipse cx="248" cy="94.2" rx="6" ry="1.2" fill="#ff9800" fill-opacity="0.6"/><ellipse cx="200" cy="94.2" rx="14" ry="1" fill="#ff9800" fill-opacity="0.2"/></g><g stroke="#30d060" stroke-opacity=".35" stroke-width="1"><path d="M136.5 84V103M175 80V104"/></g>
<g transform="translate(0 0)">
<g stroke="#fff" stroke-opacity=".7" stroke-width="1" stroke-dasharray="1.1 1" fill="none"><path d="M52.1 46.3H261.5V152.9H52.1Z"/></g>
</g>
<path d="M54.2 143.8H257" stroke="#ffbcf8" stroke-width="1.3"/>
<path d="M255.5 141.3L260 143.8L255.5 146.3Z" fill="#ffd0fa"/>
<text x="154.6" y="138.6" fill="#fde8ff" text-anchor="middle" textLength="184" lengthAdjust="spacingAndGlyphs">281 Point Line Scan in 1 mm intervals</text>
<g stroke="#111" stroke-width="2" fill="none">
<path d="M49 46.6V156.6"/>
<path d="M42.5 47.7H49"/>
<path d="M42.5 68.0H49"/>
<path d="M42.5 88.3H49"/>
<path d="M42.5 109.0H49"/>
<path d="M42.5 130.4H49"/>
<path d="M42.5 152.7H49"/>
<path d="M50 157.2H262.2" stroke-width="1.8"/>
<path d="M52.2 157.2V162.5" stroke-width="1.8"/>
<path d="M105.0 157.2V162.5" stroke-width="1.8"/>
<path d="M156.4 157.2V162.5" stroke-width="1.8"/>
<path d="M207.7 157.2V162.5" stroke-width="1.8"/>
<path d="M260.9 157.2V162.5" stroke-width="1.8"/>
</g>
<text x="39.6" y="51.7" text-anchor="end">900</text>
<text x="39.6" y="72.0" text-anchor="end">1000</text>
<text x="39.6" y="92.3" text-anchor="end">1100</text>
<text x="39.6" y="113.0" text-anchor="end">1200</text>
<text x="39.6" y="134.4" text-anchor="end">1300</text>
<text x="39.6" y="156.7" text-anchor="end">1400</text>
<text x="52.8" y="173.3" text-anchor="middle">-140</text>
<text x="105.6" y="173.3" text-anchor="middle">-70</text>
<text x="156.4" y="173.3" text-anchor="middle">0</text>
<text x="207.7" y="173.3" text-anchor="middle">70</text>
<text x="260.9" y="173.3" text-anchor="middle">140</text>
<text x="160" y="184" text-anchor="middle" textLength="165" lengthAdjust="spacingAndGlyphs">Distance from Wafer Center (mm)</text>
<text x="12.2" y="94.8" text-anchor="middle" style="font-size:10.4px" transform="rotate(-90 12.2 94.8)">Wavelength (nm)</text>
<rect x="270" y="46.6" width="11.7" height="108" fill="url(#cbar)"/>
<g stroke="#888" stroke-width=".9">
<path d="M281.7 47.4h5.6"/>
<path d="M281.7 62.7h5.6"/>
<path d="M281.7 77.9h5.6"/>
<path d="M281.7 93.2h5.6"/>
<path d="M281.7 108.5h5.6"/>
<path d="M281.7 123.8h5.6"/>
<path d="M281.7 139.0h5.6"/>
<path d="M281.7 154.3h5.6"/>
</g>
<text x="290.4" y="52.6" fill="#e8141c">35000</text>
<text x="291.4" y="156.4" fill="#22228c">0</text>
</g>
<g transform="translate(0 173.2)">
<text x="50.8" y="31.3" fill="#8c1414">827nm</text>
<text x="50.8" y="42.8" fill="#8c1414">Excitation</text>
<text x="106" y="31.3">Exposure</text>
<text x="106" y="42.8" fill="#f01418">20ms</text>
<text x="268.6" y="30.9">RTPL</text>
<text x="268.6" y="42.8">Intensity</text>
<g transform="translate(0 0.6)">
<rect x="50.6" y="45.8" width="210.2" height="108.7" fill="url(#hg1)"/>
</g>
<g filter="url(#b1)"><ellipse cx="64" cy="95.6" rx="8" ry="1.2" fill="#ff9800" fill-opacity="0.55"/><ellipse cx="85" cy="95.6" rx="12" ry="1" fill="#ff9800" fill-opacity="0.35"/><ellipse cx="115" cy="95.6" rx="14" ry="1" fill="#ff9800" fill-opacity="0.2"/><ellipse cx="230" cy="95.6" rx="16" ry="1" fill="#ff9800" fill-opacity="0.15"/></g><g stroke="#30d060" stroke-opacity=".3" stroke-width="1"><path d="M175 82V106"/></g>
<g transform="translate(0 0.6)">
<g stroke="#fff" stroke-opacity=".7" stroke-width="1" stroke-dasharray="1.1 1" fill="none"><path d="M51.2 46.3H260.3V152.9H51.2Z"/></g>
</g>
<path d="M54.2 143.8H257" stroke="#ffbcf8" stroke-width="1.3"/>
<path d="M255.5 141.3L260 143.8L255.5 146.3Z" fill="#ffd0fa"/>
<text x="154.6" y="138.6" fill="#fde8ff" text-anchor="middle" textLength="184" lengthAdjust="spacingAndGlyphs">281 Point Line Scan in 1 mm intervals</text>
<g stroke="#111" stroke-width="2" fill="none">
<path d="M49 46.6V156.6"/>
<path d="M42.5 47.7H49"/>
<path d="M42.5 68.0H49"/>
<path d="M42.5 88.3H49"/>
<path d="M42.5 109.0H49"/>
<path d="M42.5 130.4H49"/>
<path d="M42.5 152.7H49"/>
<path d="M50 157.2H262.2" stroke-width="1.8"/>
<path d="M52.2 157.2V162.5" stroke-width="1.8"/>
<path d="M105.0 157.2V162.5" stroke-width="1.8"/>
<path d="M156.4 157.2V162.5" stroke-width="1.8"/>
<path d="M207.7 157.2V162.5" stroke-width="1.8"/>
<path d="M260.9 157.2V162.5" stroke-width="1.8"/>
</g>
<text x="39.6" y="51.7" text-anchor="end">900</text>
<text x="39.6" y="72.0" text-anchor="end">1000</text>
<text x="39.6" y="92.3" text-anchor="end">1100</text>
<text x="39.6" y="113.0" text-anchor="end">1200</text>
<text x="39.6" y="134.4" text-anchor="end">1300</text>
<text x="39.6" y="156.7" text-anchor="end">1400</text>
<text x="52.8" y="173.3" text-anchor="middle">-140</text>
<text x="105.6" y="173.3" text-anchor="middle">-70</text>
<text x="156.4" y="173.3" text-anchor="middle">0</text>
<text x="207.7" y="173.3" text-anchor="middle">70</text>
<text x="260.9" y="173.3" text-anchor="middle">140</text>
<text x="160" y="184" text-anchor="middle" textLength="165" lengthAdjust="spacingAndGlyphs">Distance from Wafer Center (mm)</text>
<text x="12.2" y="94.8" text-anchor="middle" style="font-size:10.4px" transform="rotate(-90 12.2 94.8)">Wavelength (nm)</text>
<rect x="270.6" y="47.2" width="11.4" height="108" fill="url(#cbar)"/>
<g stroke="#888" stroke-width=".9">
<path d="M282 48.0h5.6"/>
<path d="M282 63.3h5.6"/>
<path d="M282 78.5h5.6"/>
<path d="M282 93.8h5.6"/>
<path d="M282 109.1h5.6"/>
<path d="M282 124.4h5.6"/>
<path d="M282 139.6h5.6"/>
<path d="M282 154.9h5.6"/>
</g>
<text x="287.6" y="52.6" fill="#e8141c">35000</text>
<text x="291.4" y="156.4" fill="#22228c">0</text>
</g>
<g transform="translate(0 377.2)">
<text x="50.8" y="31.3" fill="#f01418">650nm</text>
<text x="50.8" y="42.8" fill="#f01418">Excitation</text>
<text x="106" y="31.3">Exposure</text>
<text x="106" y="42.8" fill="#000">1000ms</text>
<text x="268.6" y="30.9">RTPL</text>
<text x="268.6" y="42.8">Intensity</text>
<g transform="translate(0 1.8)">
<rect x="51.2" y="45.8" width="210.2" height="108.7" fill="url(#hg2)"/>
</g>
<g filter="url(#b2)" clip-path="url(#hmclip)"><rect x="209.5" y="85.6" width="54" height="17.6" rx="2" fill="#30ff00" fill-opacity="0.6"/></g><g filter="url(#b1)" clip-path="url(#hmclip)"><rect x="211" y="89.6" width="52" height="10" rx="2" fill="#fff000" fill-opacity="1"/></g><g filter="url(#b2)"><ellipse cx="171" cy="94.6" rx="3.4" ry="3.6" fill="#c0ff00" fill-opacity="0.7"/><ellipse cx="185.2" cy="94.6" rx="8" ry="4.2" fill="#e8ff00" fill-opacity="0.95"/></g><g filter="url(#b1)"><ellipse cx="93.5" cy="94.5" rx="4.5" ry="3" fill="#fff000" fill-opacity="0.8"/><ellipse cx="112" cy="94.5" rx="2.2" ry="2.6" fill="#fff000" fill-opacity="0.5"/><ellipse cx="125" cy="94.5" rx="1.8" ry="2.4" fill="#fff000" fill-opacity="0.4"/><ellipse cx="138" cy="94.5" rx="2.2" ry="2.8" fill="#fff000" fill-opacity="0.6"/><ellipse cx="149" cy="94.5" rx="2" ry="2.4" fill="#fff000" fill-opacity="0.3"/><ellipse cx="184.6" cy="94.6" rx="4.5" ry="3" fill="#fff000" fill-opacity="0.9"/><ellipse cx="202.7" cy="94.6" rx="1.8" ry="3.4" fill="#fff000" fill-opacity="0.8"/><ellipse cx="214.6" cy="94.6" rx="1.6" ry="2.6" fill="#ff9800" fill-opacity="0.95"/><ellipse cx="228" cy="94.6" rx="1.6" ry="2.4" fill="#ff9800" fill-opacity="0.8"/><ellipse cx="238.2" cy="94.6" rx="1.5" ry="4.6" fill="#ff2000" fill-opacity="1"/><ellipse cx="238.2" cy="94.6" rx="1.1" ry="3.4" fill="#ff2000" fill-opacity="1"/></g><g filter="url(#b1)"><rect x="206.3" y="86" width="2.6" height="17" fill="#00e890" fill-opacity=".6"/></g>
<g transform="translate(0 1.8)">
<g stroke="#fff" stroke-opacity=".7" stroke-width="1" stroke-dasharray="1.1 1" fill="none"><path d="M51.800000000000004 46.3H260.9V152.9H51.800000000000004Z"/></g>
</g>
<path d="M54.2 143.8H257" stroke="#ffbcf8" stroke-width="1.3"/>
<path d="M255.5 141.3L260 143.8L255.5 146.3Z" fill="#ffd0fa"/>
<text x="154.6" y="138.6" fill="#fde8ff" text-anchor="middle" textLength="184" lengthAdjust="spacingAndGlyphs">281 Point Line Scan in 1 mm intervals</text>
<g stroke="#111" stroke-width="2" fill="none">
<path d="M49 46.6V156.6"/>
<path d="M42.5 47.7H49"/>
<path d="M42.5 68.0H49"/>
<path d="M42.5 88.3H49"/>
<path d="M42.5 109.0H49"/>
<path d="M42.5 130.4H49"/>
<path d="M42.5 152.7H49"/>
<path d="M50 157.2H262.2" stroke-width="1.8"/>
<path d="M52.2 157.2V162.5" stroke-width="1.8"/>
<path d="M105.0 157.2V162.5" stroke-width="1.8"/>
<path d="M156.4 157.2V162.5" stroke-width="1.8"/>
<path d="M207.7 157.2V162.5" stroke-width="1.8"/>
<path d="M260.9 157.2V162.5" stroke-width="1.8"/>
</g>
<text x="39.6" y="51.7" text-anchor="end">900</text>
<text x="39.6" y="72.0" text-anchor="end">1000</text>
<text x="39.6" y="92.3" text-anchor="end">1100</text>
<text x="39.6" y="113.0" text-anchor="end">1200</text>
<text x="39.6" y="134.4" text-anchor="end">1300</text>
<text x="39.6" y="156.7" text-anchor="end">1400</text>
<text x="52.8" y="173.3" text-anchor="middle">-140</text>
<text x="105.6" y="173.3" text-anchor="middle">-70</text>
<text x="156.4" y="173.3" text-anchor="middle">0</text>
<text x="207.7" y="173.3" text-anchor="middle">70</text>
<text x="260.9" y="173.3" text-anchor="middle">140</text>
<text x="160" y="184" text-anchor="middle" textLength="165" lengthAdjust="spacingAndGlyphs">Distance from Wafer Center (mm)</text>
<text x="12.2" y="94.8" text-anchor="middle" style="font-size:10.4px" transform="rotate(-90 12.2 94.8)">Wavelength (nm)</text>
<rect x="270" y="48.4" width="11.2" height="108" fill="url(#cbar)"/>
<g stroke="#888" stroke-width=".9">
<path d="M281.2 49.2h5.6"/>
<path d="M281.2 67.0h5.6"/>
<path d="M281.2 84.8h5.6"/>
<path d="M281.2 102.7h5.6"/>
<path d="M281.2 120.5h5.6"/>
<path d="M281.2 138.3h5.6"/>
<path d="M281.2 156.1h5.6"/>
</g>
<text x="288" y="52.6" fill="#e8141c">6000</text>
<text x="291.4" y="156.4" fill="#22228c">0</text>
</g>
<g transform="translate(0 550.4)">
<text x="50.8" y="31.3" fill="#8c1414">827nm</text>
<text x="50.8" y="42.8" fill="#8c1414">Excitation</text>
<text x="106" y="31.3">Exposure</text>
<text x="106" y="42.8" fill="#000">200ms</text>
<text x="268.6" y="30.9">RTPL</text>
<text x="268.6" y="42.8">Intensity</text>
<g transform="translate(0 0)">
<rect x="50.2" y="45.8" width="209.8" height="108.7" fill="url(#hg3)"/>
</g>
<g filter="url(#b1)" clip-path="url(#hmclip)"><rect x="51.5" y="91.4" width="18" height="6.6" rx="2" fill="#fff000" fill-opacity="0.7"/><rect x="81" y="90.6" width="19" height="8.2" rx="2" fill="#fff000" fill-opacity="0.7"/><rect x="165" y="89.8" width="39" height="9.4" rx="2" fill="#f8f000" fill-opacity="0.95"/><rect x="209.5" y="88.2" width="54" height="12.4" rx="2" fill="#fff000" fill-opacity="1"/><rect x="211" y="91.2" width="52" height="7.4" rx="2" fill="#ff8400" fill-opacity="1"/></g><g filter="url(#b1)"><ellipse cx="55" cy="94.8" rx="5" ry="2.2" fill="#ff9800" fill-opacity="0.95"/><ellipse cx="63" cy="94.8" rx="4" ry="1.4" fill="#ff9800" fill-opacity="0.5"/><ellipse cx="90.4" cy="94.8" rx="4" ry="2.6" fill="#ff9800" fill-opacity="0.9"/><ellipse cx="170.7" cy="94.8" rx="2.6" ry="2.6" fill="#ff9800" fill-opacity="0.9"/><ellipse cx="185.7" cy="94.8" rx="7.5" ry="3" fill="#ff8000" fill-opacity="1"/><ellipse cx="185.7" cy="94.8" rx="4" ry="2" fill="#ff6000" fill-opacity="0.8"/><ellipse cx="201.3" cy="94.8" rx="2" ry="2.6" fill="#ff9800" fill-opacity="0.9"/><ellipse cx="235.9" cy="94.8" rx="1.7" ry="4.6" fill="#ff2000" fill-opacity="1"/><ellipse cx="235.9" cy="94.8" rx="1.2" ry="3.4" fill="#ff2000" fill-opacity="1"/><ellipse cx="224" cy="94.8" rx="6" ry="2.6" fill="#ff6000" fill-opacity="0.5"/><ellipse cx="247" cy="94.8" rx="7" ry="2.6" fill="#ff6000" fill-opacity="0.4"/></g><g filter="url(#b1)"><rect x="205.3" y="87" width="2.6" height="16" fill="#50ff00" fill-opacity=".8"/></g>
<g transform="translate(0 0)">
<g stroke="#fff" stroke-opacity=".7" stroke-width="1" stroke-dasharray="1.1 1" fill="none"><path d="M50.800000000000004 46.3H259.5V152.9H50.800000000000004Z"/></g>
</g>
<path d="M54.2 143.8H257" stroke="#ffbcf8" stroke-width="1.3"/>
<path d="M255.5 141.3L260 143.8L255.5 146.3Z" fill="#ffd0fa"/>
<text x="154.6" y="138.6" fill="#fde8ff" text-anchor="middle" textLength="184" lengthAdjust="spacingAndGlyphs">281 Point Line Scan in 1 mm intervals</text>
<g stroke="#111" stroke-width="2" fill="none">
<path d="M49 46.6V156.6"/>
<path d="M42.5 47.7H49"/>
<path d="M42.5 68.0H49"/>
<path d="M42.5 88.3H49"/>
<path d="M42.5 109.0H49"/>
<path d="M42.5 130.4H49"/>
<path d="M42.5 152.7H49"/>
<path d="M50 157.2H262.2" stroke-width="1.8"/>
<path d="M52.2 157.2V162.5" stroke-width="1.8"/>
<path d="M105.0 157.2V162.5" stroke-width="1.8"/>
<path d="M156.4 157.2V162.5" stroke-width="1.8"/>
<path d="M207.7 157.2V162.5" stroke-width="1.8"/>
<path d="M260.9 157.2V162.5" stroke-width="1.8"/>
</g>
<text x="39.6" y="51.7" text-anchor="end">900</text>
<text x="39.6" y="72.0" text-anchor="end">1000</text>
<text x="39.6" y="92.3" text-anchor="end">1100</text>
<text x="39.6" y="113.0" text-anchor="end">1200</text>
<text x="39.6" y="134.4" text-anchor="end">1300</text>
<text x="39.6" y="156.7" text-anchor="end">1400</text>
<text x="52.8" y="173.3" text-anchor="middle">-140</text>
<text x="105.6" y="173.3" text-anchor="middle">-70</text>
<text x="156.4" y="173.3" text-anchor="middle">0</text>
<text x="207.7" y="173.3" text-anchor="middle">70</text>
<text x="260.9" y="173.3" text-anchor="middle">140</text>
<text x="160" y="184" text-anchor="middle" textLength="165" lengthAdjust="spacingAndGlyphs">Distance from Wafer Center (mm)</text>
<text x="12.2" y="94.8" text-anchor="middle" style="font-size:10.4px" transform="rotate(-90 12.2 94.8)">Wavelength (nm)</text>
<rect x="268.2" y="46.6" width="11.8" height="108" fill="url(#cbar)"/>
<g stroke="#888" stroke-width=".9">
<path d="M280 47.4h5.6"/>
<path d="M280 62.7h5.6"/>
<path d="M280 77.9h5.6"/>
<path d="M280 93.2h5.6"/>
<path d="M280 108.5h5.6"/>
<path d="M280 123.8h5.6"/>
<path d="M280 139.0h5.6"/>
<path d="M280 154.3h5.6"/>
</g>
<text x="287" y="52.6" fill="#e8141c">35000</text>
<text x="291.4" y="156.4" fill="#22228c">0</text>
</g>
<g transform="translate(0 757.5)">
<text x="50.8" y="31.3" fill="#f01418">650nm</text>
<text x="50.8" y="42.8" fill="#f01418">Excitation</text>
<text x="106" y="31.3">Exposure</text>
<text x="106" y="42.8" fill="#000">1000ms</text>
<text x="268.6" y="30.9">RTPL</text>
<text x="268.6" y="42.8">Intensity</text>
<g transform="translate(0 0)">
<rect x="50.8" y="45.8" width="209.6" height="108.7" fill="url(#hg4)"/>
</g>
<g clip-path="url(#pin1c)"><rect x="47" y="45.8" width="17.6" height="108.7" fill="url(#pin1)" filter="url(#b3)"/><rect x="251.4" y="45.8" width="14" height="108.7" fill="url(#pin1)" filter="url(#b3)"/><g filter="url(#b1)"><ellipse cx="65.2" cy="84.8" rx="3.2" ry="4.4" fill="#0090ff" fill-opacity=".9"/><ellipse cx="65.2" cy="104.2" rx="3.2" ry="4.4" fill="#0088ff" fill-opacity=".9"/><ellipse cx="65.2" cy="88.6" rx="2.2" ry="2.4" fill="#00f0a0" fill-opacity=".8"/><ellipse cx="65.2" cy="100.2" rx="2.2" ry="2.4" fill="#00f0a0" fill-opacity=".8"/><ellipse cx="250.8" cy="84.8" rx="3.2" ry="4.4" fill="#0090ff" fill-opacity=".9"/><ellipse cx="250.8" cy="104.2" rx="3.2" ry="4.4" fill="#0088ff" fill-opacity=".9"/><ellipse cx="250.8" cy="88.6" rx="2.2" ry="2.4" fill="#00f0a0" fill-opacity=".8"/><ellipse cx="250.8" cy="100.2" rx="2.2" ry="2.4" fill="#00f0a0" fill-opacity=".8"/><ellipse cx="54.4" cy="94.2" rx="4" ry="6.4" fill="#30ff00" fill-opacity=".95"/><ellipse cx="54.4" cy="94.2" rx="2.6" ry="4" fill="#f0f000"/><ellipse cx="54.4" cy="94.2" rx="1.6" ry="2" fill="#ffe800"/><ellipse cx="258.6" cy="94.2" rx="4" ry="6.4" fill="#30ff00" fill-opacity=".95"/><ellipse cx="258.6" cy="94.2" rx="2.6" ry="4" fill="#f0f000"/><ellipse cx="258.6" cy="94.2" rx="1.6" ry="2" fill="#ffe800"/></g></g><g filter="url(#b1)"><ellipse cx="80" cy="94.2" rx="10" ry="1.2" fill="#ff9800" fill-opacity="0.4"/><ellipse cx="110" cy="94.2" rx="20" ry="1.1" fill="#ff9800" fill-opacity="0.25"/><ellipse cx="160" cy="94.2" rx="30" ry="1" fill="#ff9800" fill-opacity="0.15"/></g>
<g transform="translate(0 0)">
<g stroke="#fff" stroke-opacity=".7" stroke-width="1" stroke-dasharray="1.1 1" fill="none"><path d="M51.4 46.3H259.9V152.9H51.4Z"/></g>
</g>
<path d="M54.2 143.8H257" stroke="#ffbcf8" stroke-width="1.3"/>
<path d="M255.5 141.3L260 143.8L255.5 146.3Z" fill="#ffd0fa"/>
<text x="154.6" y="138.6" fill="#fde8ff" text-anchor="middle" textLength="184" lengthAdjust="spacingAndGlyphs">281 Point Line Scan in 1 mm intervals</text>
<g stroke="#111" stroke-width="2" fill="none">
<path d="M49 46.6V156.6"/>
<path d="M42.5 47.7H49"/>
<path d="M42.5 68.0H49"/>
<path d="M42.5 88.3H49"/>
<path d="M42.5 109.0H49"/>
<path d="M42.5 130.4H49"/>
<path d="M42.5 152.7H49"/>
<path d="M50 157.2H262.2" stroke-width="1.8"/>
<path d="M52.2 157.2V162.5" stroke-width="1.8"/>
<path d="M105.0 157.2V162.5" stroke-width="1.8"/>
<path d="M156.4 157.2V162.5" stroke-width="1.8"/>
<path d="M207.7 157.2V162.5" stroke-width="1.8"/>
<path d="M260.9 157.2V162.5" stroke-width="1.8"/>
</g>
<text x="39.6" y="51.7" text-anchor="end">900</text>
<text x="39.6" y="72.0" text-anchor="end">1000</text>
<text x="39.6" y="92.3" text-anchor="end">1100</text>
<text x="39.6" y="113.0" text-anchor="end">1200</text>
<text x="39.6" y="134.4" text-anchor="end">1300</text>
<text x="39.6" y="156.7" text-anchor="end">1400</text>
<text x="52.8" y="173.3" text-anchor="middle">-140</text>
<text x="105.6" y="173.3" text-anchor="middle">-70</text>
<text x="156.4" y="173.3" text-anchor="middle">0</text>
<text x="207.7" y="173.3" text-anchor="middle">70</text>
<text x="260.9" y="173.3" text-anchor="middle">140</text>
<text x="160" y="184" text-anchor="middle" textLength="165" lengthAdjust="spacingAndGlyphs">Distance from Wafer Center (mm)</text>
<text x="12.2" y="94.8" text-anchor="middle" style="font-size:10.4px" transform="rotate(-90 12.2 94.8)">Wavelength (nm)</text>
<rect x="268.6" y="46.6" width="12.1" height="108" fill="url(#cbar)"/>
<g stroke="#888" stroke-width=".9">
<path d="M280.7 47.4h5.6"/>
<path d="M280.7 68.8h5.6"/>
<path d="M280.7 90.2h5.6"/>
<path d="M280.7 111.5h5.6"/>
<path d="M280.7 132.9h5.6"/>
<path d="M280.7 154.3h5.6"/>
</g>
<text x="290.4" y="52.6" fill="#e8141c">2500</text>
<text x="291.4" y="156.4" fill="#22228c">0</text>
</g>
<g transform="translate(0 931.0)">
<text x="50.8" y="31.3" fill="#8c1414">827nm</text>
<text x="50.8" y="42.8" fill="#8c1414">Excitation</text>
<text x="106" y="31.3">Exposure</text>
<text x="106" y="42.8" fill="#000">200ms</text>
<text x="268.6" y="30.9">RTPL</text>
<text x="268.6" y="42.8">Intensity</text>
<g transform="translate(0 1.2)">
<rect x="50.2" y="45.8" width="210.6" height="108.7" fill="url(#hg5)"/>
</g>
<g clip-path="url(#pin2c)"><rect x="47" y="45.8" width="17.6" height="108.7" fill="url(#pin2)" filter="url(#b3)"/><rect x="251.4" y="45.8" width="14" height="108.7" fill="url(#pin2)" filter="url(#b3)"/><g filter="url(#b1)"><ellipse cx="65.2" cy="84.8" rx="3.2" ry="4.4" fill="#0030ff" fill-opacity=".9"/><ellipse cx="65.2" cy="104.2" rx="3.2" ry="4.4" fill="#0030ff" fill-opacity=".9"/><ellipse cx="65.2" cy="88.6" rx="2.2" ry="2.4" fill="#00d0f0" fill-opacity=".8"/><ellipse cx="65.2" cy="100.2" rx="2.2" ry="2.4" fill="#00d0f0" fill-opacity=".8"/><ellipse cx="250.8" cy="84.8" rx="3.2" ry="4.4" fill="#0030ff" fill-opacity=".9"/><ellipse cx="250.8" cy="104.2" rx="3.2" ry="4.4" fill="#0030ff" fill-opacity=".9"/><ellipse cx="250.8" cy="88.6" rx="2.2" ry="2.4" fill="#00d0f0" fill-opacity=".8"/><ellipse cx="250.8" cy="100.2" rx="2.2" ry="2.4" fill="#00d0f0" fill-opacity=".8"/><ellipse cx="54.4" cy="94.2" rx="4.6" ry="7" fill="#30ff00" fill-opacity=".95"/><ellipse cx="54.4" cy="94.2" rx="3.2" ry="4.6" fill="#f0f000"/><ellipse cx="54.4" cy="94.2" rx="2" ry="2.4" fill="#ff9000"/><ellipse cx="258.6" cy="94.2" rx="4.6" ry="7" fill="#30ff00" fill-opacity=".95"/><ellipse cx="258.6" cy="94.2" rx="3.2" ry="4.6" fill="#f0f000"/><ellipse cx="258.6" cy="94.2" rx="2" ry="2.4" fill="#ff9000"/></g></g><g filter="url(#b1)"><ellipse cx="120" cy="94.6" rx="40" ry="1.2" fill="#ff9800" fill-opacity="0.35"/><ellipse cx="200" cy="94.6" rx="30" ry="1.1" fill="#ff9800" fill-opacity="0.3"/></g>
<g transform="translate(0 1.2)">
<g stroke="#fff" stroke-opacity=".7" stroke-width="1" stroke-dasharray="1.1 1" fill="none"><path d="M50.800000000000004 46.3H260.3V152.9H50.800000000000004Z"/></g>
</g>
<path d="M54.2 143.8H257" stroke="#ffbcf8" stroke-width="1.3"/>
<path d="M255.5 141.3L260 143.8L255.5 146.3Z" fill="#ffd0fa"/>
<text x="154.6" y="138.6" fill="#fde8ff" text-anchor="middle" textLength="184" lengthAdjust="spacingAndGlyphs">281 Point Line Scan in 1 mm intervals</text>
<g stroke="#111" stroke-width="2" fill="none">
<path d="M49 46.6V156.6"/>
<path d="M42.5 47.7H49"/>
<path d="M42.5 68.0H49"/>
<path d="M42.5 88.3H49"/>
<path d="M42.5 109.0H49"/>
<path d="M42.5 130.4H49"/>
<path d="M42.5 152.7H49"/>
<path d="M50 157.2H262.2" stroke-width="1.8"/>
<path d="M52.2 157.2V162.5" stroke-width="1.8"/>
<path d="M105.0 157.2V162.5" stroke-width="1.8"/>
<path d="M156.4 157.2V162.5" stroke-width="1.8"/>
<path d="M207.7 157.2V162.5" stroke-width="1.8"/>
<path d="M260.9 157.2V162.5" stroke-width="1.8"/>
</g>
<text x="39.6" y="51.7" text-anchor="end">900</text>
<text x="39.6" y="72.0" text-anchor="end">1000</text>
<text x="39.6" y="92.3" text-anchor="end">1100</text>
<text x="39.6" y="113.0" text-anchor="end">1200</text>
<text x="39.6" y="134.4" text-anchor="end">1300</text>
<text x="39.6" y="156.7" text-anchor="end">1400</text>
<text x="52.8" y="173.3" text-anchor="middle">-140</text>
<text x="105.6" y="173.3" text-anchor="middle">-70</text>
<text x="156.4" y="173.3" text-anchor="middle">0</text>
<text x="207.7" y="173.3" text-anchor="middle">70</text>
<text x="260.9" y="173.3" text-anchor="middle">140</text>
<text x="160" y="184" text-anchor="middle" textLength="165" lengthAdjust="spacingAndGlyphs">Distance from Wafer Center (mm)</text>
<text x="12.2" y="94.8" text-anchor="middle" style="font-size:10.4px" transform="rotate(-90 12.2 94.8)">Wavelength (nm)</text>
<rect x="269.2" y="47.800000000000004" width="11.5" height="108" fill="url(#cbar)"/>
<g stroke="#888" stroke-width=".9">
<path d="M280.7 48.6h5.6"/>
<path d="M280.7 75.3h5.6"/>
<path d="M280.7 102.1h5.6"/>
<path d="M280.7 128.8h5.6"/>
<path d="M280.7 155.5h5.6"/>
</g>
<text x="287.2" y="52.6" fill="#e8141c">20000</text>
<text x="291.4" y="156.4" fill="#22228c">0</text>
</g>
<g transform="translate(0 0.0)">
<g stroke="#666" stroke-width=".9" fill="none">
<path d="M343.5 28.8L428.7 1.0L500.6 33.0h2.4"/>
<path d="M343.5 42.7L428.7 14.9L500.6 46.9h2.4"/>
<path d="M343.5 56.5L428.7 28.7L500.6 60.7h2.4"/>
<path d="M343.5 70.4L428.7 42.6L500.6 74.6h2.4"/>
<path d="M343.5 84.2L428.7 56.4L500.6 88.4h2.4"/>
<path d="M343.5 98.1L428.7 70.3L500.6 102.3h2.4"/>
<path d="M343.5 111.9L428.7 84.1L500.6 116.1h2.4"/>
<path d="M343.5 125.8L428.7 98.0L500.6 130.0h2.4"/>
<path d="M343.5 28.8V125.8M428.7 1V98M500.6 33V130"/>
</g>
<polygon points="343.5,125.8 416.2,157.7 499.5,129.3 428.7,98.0" fill="#8a00ff"/>
<polygon points="363.0,122.3 365.4,115.9 367.7,103.1 370.0,87.0 371.5,71.0 373.0,61.4 375.4,58.7 382.5,58.2 382.5,121.0" fill="url(#subg)"/>
<polygon points="363.0,122.3 365.4,115.9 367.7,103.1 370.0,87.0 371.5,71.0 373.0,61.4 375.4,58.7 382.5,58.2 382.5,121.0" fill="url(#spk)" clip-path="url(#subclip)"/>
<polygon points="347.0,129.0 361.0,130.0 381.3,123.8 381.3,126.0 384.0,138.0 389.0,145.0 398.0,151.5 408.0,157.0 412.0,159.0" fill="#fff"/>
<polygon points="381.3,58.2 383.3,57.1 385.4,57.2 387.4,56.4 389.4,55.1 391.4,54.7 393.5,54.0 395.5,53.5 397.5,53.0 399.6,51.5 401.6,50.7 403.6,51.0 405.6,49.8 407.7,49.5 409.7,47.9 411.7,47.8 413.8,47.4 415.8,46.1 417.8,46.3 419.9,45.5 421.9,43.8 423.9,43.1 425.9,43.0 428.0,42.8 430.0,41.6 432.1,40.8 434.2,40.0 436.2,39.6 438.3,38.4 440.4,38.0 442.5,37.6 444.6,37.0 446.7,36.1 448.8,35.4 450.8,34.8 452.9,34.4 455.0,33.8 458.0,32.4 460.6,32.8 461.8,40.8 463.2,48.8 464.6,71.5 465.4,87.0 467.0,99.0 470.0,108.5 475.4,116.0 486.0,123.0 499.5,129.3 416.2,157.7 407.3,154.4 399.6,150.4 392.0,144.6 386.2,137.4 382.6,129.0 381.5,119.0 381.3,58.2" fill="url(#surf)"/>
<polygon points="381.3,58.2 383.3,57.1 385.4,57.2 387.4,56.4 389.4,55.1 391.4,54.7 393.5,54.0 395.5,53.5 397.5,53.0 399.6,51.5 401.6,50.7 403.6,51.0 405.6,49.8 407.7,49.5 409.7,47.9 411.7,47.8 413.8,47.4 415.8,46.1 417.8,46.3 419.9,45.5 421.9,43.8 423.9,43.1 425.9,43.0 428.0,42.8 430.0,41.6 432.1,40.8 434.2,40.0 436.2,39.6 438.3,38.4 440.4,38.0 442.5,37.6 444.6,37.0 446.7,36.1 448.8,35.4 450.8,34.8 452.9,34.4 455.0,33.8 458.0,32.4 460.6,32.8 461.8,40.8 463.2,48.8 464.6,71.5 465.4,87.0 467.0,99.0 470.0,108.5 475.4,116.0 486.0,123.0 499.5,129.3 416.2,157.7 407.3,154.4 399.6,150.4 392.0,144.6 386.2,137.4 382.6,129.0 381.5,119.0 381.3,58.2" fill="url(#purp)"/>
<polygon points="382.3,105.0 465.0,78.0 468.0,100.0 476.0,116.0 492.0,122.0 470.0,129.0 440.0,135.0 416.0,142.0 401.0,149.0 392.0,144.6 386.2,137.4 382.6,129.0" fill="url(#spk)"/>
<polygon points="382.3,125.0 470.0,110.0 486.0,123.5 499.5,129.3 416.2,157.7 400.0,151.0 390.0,143.0 384.0,133.0" fill="url(#spk2)"/>

<g stroke="#111" stroke-width="1.9" fill="none">
<path d="M343.5 125.8L413.8 160.3"/>
<path d="M343.9 125.6l-4.6 2.2" stroke-width="1.6"/>
<path d="M357.1 132.1l-4.6 2.2" stroke-width="1.6"/>
<path d="M370.3 138.6l-4.6 2.2" stroke-width="1.6"/>
<path d="M383.6 145.2l-4.6 2.2" stroke-width="1.6"/>
<path d="M396.8 151.7l-4.6 2.2" stroke-width="1.6"/>
<path d="M410.0 158.2l-4.6 2.2" stroke-width="1.6"/>
</g>
<path d="M417.7 162.3L501 131.6" stroke="#222" stroke-width="1.2"/>
<path d="M505.8 130.9l-5 -.9l2 4.4z" fill="#111"/>
<text x="0" y="3.7" text-anchor="middle" transform="translate(328.0 133.4) rotate(-25)">900</text>
<text x="0" y="3.7" text-anchor="middle" transform="translate(338.4 141.0) rotate(-25)">1000</text>
<text x="0" y="3.7" text-anchor="middle" transform="translate(351.7 149.0) rotate(-25)">1100</text>
<text x="0" y="3.7" text-anchor="middle" transform="translate(364.4 157.0) rotate(-25)">1200</text>
<text x="0" y="3.7" text-anchor="middle" transform="translate(379.2 162.8) rotate(-25)">1300</text>
<text x="0" y="3.7" text-anchor="middle" transform="translate(394.3 169.2) rotate(-25)">1400</text>
<text x="0" y="3.7" text-anchor="middle" font-style="italic" transform="translate(342.6 168) rotate(37)">λ (nm)</text>
<text x="0" y="3.7" text-anchor="middle" transform="translate(468.5 155) rotate(-20)">Line Scan</text>
<text x="518.2" y="80.6" text-anchor="middle" style="font-size:10.4px" transform="rotate(-90 518.2 80.6)">Intensity (arb. units)</text>
<text fill="#e81018" style="font-size:10.3px" transform="translate(347 39.6) rotate(-17.3)">650nm Excitation</text>
<text fill="#e81018" style="font-size:10.3px" transform="translate(351 50.8) rotate(-17.3)">500ms</text>

</g>
<g transform="translate(0 174.2)">
<g stroke="#666" stroke-width=".9" fill="none">
<path d="M343.5 28.8L428.7 1.0L500.6 33.0h2.4"/>
<path d="M343.5 42.7L428.7 14.9L500.6 46.9h2.4"/>
<path d="M343.5 56.5L428.7 28.7L500.6 60.7h2.4"/>
<path d="M343.5 70.4L428.7 42.6L500.6 74.6h2.4"/>
<path d="M343.5 84.2L428.7 56.4L500.6 88.4h2.4"/>
<path d="M343.5 98.1L428.7 70.3L500.6 102.3h2.4"/>
<path d="M343.5 111.9L428.7 84.1L500.6 116.1h2.4"/>
<path d="M343.5 125.8L428.7 98.0L500.6 130.0h2.4"/>
<path d="M343.5 28.8V125.8M428.7 1V98M500.6 33V130"/>
</g>
<polygon points="343.5,125.8 416.2,157.7 499.5,129.3 428.7,98.0" fill="#8a00ff"/>
<polygon points="363.0,122.3 365.4,115.9 367.7,103.1 370.0,87.0 371.5,71.0 373.0,61.4 375.4,58.7 382.5,58.2 382.5,121.0" fill="url(#subg)"/>
<polygon points="363.0,122.3 365.4,115.9 367.7,103.1 370.0,87.0 371.5,71.0 373.0,61.4 375.4,58.7 382.5,58.2 382.5,121.0" fill="url(#spk)" clip-path="url(#subclip)"/>
<polygon points="347.0,129.0 361.0,130.0 381.3,123.8 381.3,126.0 384.0,138.0 389.0,145.0 398.0,151.5 408.0,157.0 412.0,159.0" fill="#fff"/>
<polygon points="381.3,58.2 383.3,57.8 385.4,57.1 387.4,55.9 389.4,55.2 391.4,54.9 393.5,54.2 395.5,53.5 397.5,52.6 399.6,52.0 401.6,51.3 403.6,50.6 405.6,49.7 407.7,49.2 409.7,48.5 411.7,48.0 413.8,47.4 415.8,46.7 417.8,45.8 419.9,45.0 421.9,44.2 423.9,43.4 425.9,42.7 428.0,42.3 430.0,41.6 432.1,40.8 434.2,40.2 436.2,39.9 438.3,39.0 440.4,38.4 442.5,37.5 444.6,36.8 446.7,36.3 448.8,35.5 450.8,35.1 452.9,34.7 455.0,33.8 458.0,32.4 460.6,32.8 461.8,40.8 463.2,48.8 464.6,71.5 465.4,87.0 467.0,99.0 470.0,108.5 475.4,116.0 486.0,123.0 499.5,129.3 416.2,157.7 407.3,154.4 399.6,150.4 392.0,144.6 386.2,137.4 382.6,129.0 381.5,119.0 381.3,58.2" fill="url(#surf)"/>
<polygon points="381.3,58.2 383.3,57.8 385.4,57.1 387.4,55.9 389.4,55.2 391.4,54.9 393.5,54.2 395.5,53.5 397.5,52.6 399.6,52.0 401.6,51.3 403.6,50.6 405.6,49.7 407.7,49.2 409.7,48.5 411.7,48.0 413.8,47.4 415.8,46.7 417.8,45.8 419.9,45.0 421.9,44.2 423.9,43.4 425.9,42.7 428.0,42.3 430.0,41.6 432.1,40.8 434.2,40.2 436.2,39.9 438.3,39.0 440.4,38.4 442.5,37.5 444.6,36.8 446.7,36.3 448.8,35.5 450.8,35.1 452.9,34.7 455.0,33.8 458.0,32.4 460.6,32.8 461.8,40.8 463.2,48.8 464.6,71.5 465.4,87.0 467.0,99.0 470.0,108.5 475.4,116.0 486.0,123.0 499.5,129.3 416.2,157.7 407.3,154.4 399.6,150.4 392.0,144.6 386.2,137.4 382.6,129.0 381.5,119.0 381.3,58.2" fill="url(#purp)"/>
<polygon points="382.3,105.0 465.0,78.0 468.0,100.0 476.0,116.0 492.0,122.0 470.0,129.0 440.0,135.0 416.0,142.0 401.0,149.0 392.0,144.6 386.2,137.4 382.6,129.0" fill="url(#spk)"/>
<polygon points="382.3,125.0 470.0,110.0 486.0,123.5 499.5,129.3 416.2,157.7 400.0,151.0 390.0,143.0 384.0,133.0" fill="url(#spk2)"/>

<g stroke="#111" stroke-width="1.9" fill="none">
<path d="M343.5 125.8L413.8 160.3"/>
<path d="M343.9 125.6l-4.6 2.2" stroke-width="1.6"/>
<path d="M357.1 132.1l-4.6 2.2" stroke-width="1.6"/>
<path d="M370.3 138.6l-4.6 2.2" stroke-width="1.6"/>
<path d="M383.6 145.2l-4.6 2.2" stroke-width="1.6"/>
<path d="M396.8 151.7l-4.6 2.2" stroke-width="1.6"/>
<path d="M410.0 158.2l-4.6 2.2" stroke-width="1.6"/>
</g>
<path d="M417.7 162.3L501 131.6" stroke="#222" stroke-width="1.2"/>
<path d="M505.8 130.9l-5 -.9l2 4.4z" fill="#111"/>
<text x="0" y="3.7" text-anchor="middle" transform="translate(328.0 133.4) rotate(-25)">900</text>
<text x="0" y="3.7" text-anchor="middle" transform="translate(338.4 141.0) rotate(-25)">1000</text>
<text x="0" y="3.7" text-anchor="middle" transform="translate(351.7 149.0) rotate(-25)">1100</text>
<text x="0" y="3.7" text-anchor="middle" transform="translate(364.4 157.0) rotate(-25)">1200</text>
<text x="0" y="3.7" text-anchor="middle" transform="translate(379.2 162.8) rotate(-25)">1300</text>
<text x="0" y="3.7" text-anchor="middle" transform="translate(394.3 169.2) rotate(-25)">1400</text>
<text x="0" y="3.7" text-anchor="middle" font-style="italic" transform="translate(342.6 168) rotate(37)">λ (nm)</text>
<text x="0" y="3.7" text-anchor="middle" transform="translate(468.5 155) rotate(-20)">Line Scan</text>
<text x="518.2" y="80.6" text-anchor="middle" style="font-size:10.4px" transform="rotate(-90 518.2 80.6)">Intensity (arb. units)</text>
<text fill="#8c1414" style="font-size:10.3px" transform="translate(347 39.6) rotate(-17.3)">827nm Excitation</text>
<text fill="#e81018" style="font-size:10.3px" transform="translate(351 50.8) rotate(-17.3)">20ms</text>

</g>
<g transform="translate(0 377.7)">
<g stroke="#666" stroke-width=".9" fill="none">
<path d="M343.5 28.8L428.7 1.0L500.6 33.0h2.4"/>
<path d="M343.5 45.0L428.7 17.2L500.6 49.2h2.4"/>
<path d="M343.5 61.1L428.7 33.3L500.6 65.3h2.4"/>
<path d="M343.5 77.3L428.7 49.5L500.6 81.5h2.4"/>
<path d="M343.5 93.5L428.7 65.7L500.6 97.7h2.4"/>
<path d="M343.5 109.6L428.7 81.8L500.6 113.8h2.4"/>
<path d="M343.5 125.8L428.7 98.0L500.6 130.0h2.4"/>
<path d="M343.5 28.8V125.8M428.7 1V98M500.6 33V130"/>
</g>
<polygon points="343.5,125.8 416.2,157.7 499.5,129.3 428.7,98.0" fill="#8a00ff"/>
<polygon points="343.8,124.2 349.0,122.5 355.4,120.0 360.0,118.4 364.6,115.4 367.7,109.2 370.0,100.0 371.5,90.8 373.0,81.5 375.4,74.6 378.5,73.0 382.7,75.4 382.7,119.0 367.7,124.0 355.4,127.0 345.0,126.5" fill="url(#subg)"/>
<polygon points="343.8,124.2 349.0,122.5 355.4,120.0 360.0,118.4 364.6,115.4 367.7,109.2 370.0,100.0 371.5,90.8 373.0,81.5 375.4,74.6 378.5,73.0 382.7,75.4 382.7,119.0 367.7,124.0 355.4,127.0 345.0,126.5" fill="url(#spk)" clip-path="url(#subclip)"/>
<polygon points="347.0,127.5 355.4,127.0 367.7,124.0 381.5,118.5 381.5,126.0 384.0,138.0 389.0,145.0 398.0,151.5 408.0,157.0 412.0,159.0" fill="#fff"/>
<polygon points="381.5,74.8 383.8,75.3 386.0,76.0 387.6,73.1 389.2,70.8 390.8,67.0 393.1,69.9 395.4,73.0 397.4,71.5 399.5,70.2 401.5,68.6 403.8,64.2 406.0,61.0 408.0,63.0 410.0,65.2 412.0,67.0 413.6,67.5 415.2,66.3 416.9,66.6 418.5,67.0 420.5,61.6 422.6,58.2 424.6,53.0 426.5,51.1 428.3,47.7 430.1,47.1 432.0,44.0 433.7,46.8 435.3,48.3 437.0,50.0 439.2,42.6 441.5,34.8 443.6,34.6 445.6,34.7 447.7,36.0 449.5,30.0 451.4,23.1 453.2,17.8 455.1,24.8 457.0,33.0 459.2,31.9 461.5,31.7 464.6,41.0 465.2,52.9 466.7,73.0 469.5,93.3 475.6,109.4 485.7,119.5 499.5,127.6 499.5,129.3 416.2,157.7 407.3,154.4 399.6,150.4 392.0,144.6 386.2,137.4 382.6,129.0 381.7,119.0 381.5,74.8" fill="url(#surf)"/>
<polygon points="381.5,74.8 383.8,75.3 386.0,76.0 387.6,73.1 389.2,70.8 390.8,67.0 393.1,69.9 395.4,73.0 397.4,71.5 399.5,70.2 401.5,68.6 403.8,64.2 406.0,61.0 408.0,63.0 410.0,65.2 412.0,67.0 413.6,67.5 415.2,66.3 416.9,66.6 418.5,67.0 420.5,61.6 422.6,58.2 424.6,53.0 426.5,51.1 428.3,47.7 430.1,47.1 432.0,44.0 433.7,46.8 435.3,48.3 437.0,50.0 439.2,42.6 441.5,34.8 443.6,34.6 445.6,34.7 447.7,36.0 449.5,30.0 451.4,23.1 453.2,17.8 455.1,24.8 457.0,33.0 459.2,31.9 461.5,31.7 464.6,41.0 465.2,52.9 466.7,73.0 469.5,93.3 475.6,109.4 485.7,119.5 499.5,127.6 499.5,129.3 416.2,157.7 407.3,154.4 399.6,150.4 392.0,144.6 386.2,137.4 382.6,129.0 381.7,119.0 381.5,74.8" fill="url(#purpb)"/>
<polygon points="382.5,105.0 465.0,78.0 468.0,100.0 476.0,116.0 492.0,122.0 470.0,129.0 440.0,135.0 416.0,142.0 401.0,149.0 392.0,144.6 386.2,137.4 382.6,129.0" fill="url(#spk)"/>
<polygon points="382.5,125.0 470.0,110.0 486.0,123.5 499.5,129.3 416.2,157.7 400.0,151.0 390.0,143.0 384.0,133.0" fill="url(#spk2)"/>

<g stroke="#111" stroke-width="1.9" fill="none">
<path d="M343.5 125.8L413.8 160.3"/>
<path d="M343.9 125.6l-4.6 2.2" stroke-width="1.6"/>
<path d="M357.1 132.1l-4.6 2.2" stroke-width="1.6"/>
<path d="M370.3 138.6l-4.6 2.2" stroke-width="1.6"/>
<path d="M383.6 145.2l-4.6 2.2" stroke-width="1.6"/>
<path d="M396.8 151.7l-4.6 2.2" stroke-width="1.6"/>
<path d="M410.0 158.2l-4.6 2.2" stroke-width="1.6"/>
</g>
<path d="M417.7 162.3L501 131.6" stroke="#222" stroke-width="1.2"/>
<path d="M505.8 130.9l-5 -.9l2 4.4z" fill="#111"/>
<text x="0" y="3.7" text-anchor="middle" transform="translate(328.0 133.4) rotate(-25)">900</text>
<text x="0" y="3.7" text-anchor="middle" transform="translate(338.4 141.0) rotate(-25)">1000</text>
<text x="0" y="3.7" text-anchor="middle" transform="translate(351.7 149.0) rotate(-25)">1100</text>
<text x="0" y="3.7" text-anchor="middle" transform="translate(364.4 157.0) rotate(-25)">1200</text>
<text x="0" y="3.7" text-anchor="middle" transform="translate(379.2 162.8) rotate(-25)">1300</text>
<text x="0" y="3.7" text-anchor="middle" transform="translate(394.3 169.2) rotate(-25)">1400</text>
<text x="0" y="3.7" text-anchor="middle" font-style="italic" transform="translate(342.6 168) rotate(37)">λ (nm)</text>
<text x="0" y="3.7" text-anchor="middle" transform="translate(468.5 155) rotate(-20)">Line Scan</text>
<text x="518.2" y="80.6" text-anchor="middle" style="font-size:10.4px" transform="rotate(-90 518.2 80.6)">Intensity (arb. units)</text>
<text fill="#e81018" style="font-size:10.3px" transform="translate(347 39.6) rotate(-17.3)">650nm Excitation</text>
<text fill="#000" style="font-size:10.3px" transform="translate(351 50.8) rotate(-17.3)">1000ms</text>

</g>
<g transform="translate(0 551.0)">
<g stroke="#666" stroke-width=".9" fill="none">
<path d="M343.5 28.8L428.7 1.0L500.6 33.0h2.4"/>
<path d="M343.5 42.7L428.7 14.9L500.6 46.9h2.4"/>
<path d="M343.5 56.5L428.7 28.7L500.6 60.7h2.4"/>
<path d="M343.5 70.4L428.7 42.6L500.6 74.6h2.4"/>
<path d="M343.5 84.2L428.7 56.4L500.6 88.4h2.4"/>
<path d="M343.5 98.1L428.7 70.3L500.6 102.3h2.4"/>
<path d="M343.5 111.9L428.7 84.1L500.6 116.1h2.4"/>
<path d="M343.5 125.8L428.7 98.0L500.6 130.0h2.4"/>
<path d="M343.5 28.8V125.8M428.7 1V98M500.6 33V130"/>
</g>
<polygon points="343.5,125.8 416.2,157.7 499.5,129.3 428.7,98.0" fill="#8a00ff"/>
<polygon points="363.0,122.3 365.4,115.8 367.7,102.9 370.0,86.7 371.5,70.5 373.0,60.7 375.4,58.0 382.7,57.5 382.7,121.0" fill="url(#subg)"/>
<polygon points="363.0,122.3 365.4,115.8 367.7,102.9 370.0,86.7 371.5,70.5 373.0,60.7 375.4,58.0 382.7,57.5 382.7,121.0" fill="url(#spk)" clip-path="url(#subclip)"/>
<polygon points="347.0,129.0 361.0,130.0 381.5,123.8 381.5,126.0 384.0,138.0 389.0,145.0 398.0,151.5 408.0,157.0 412.0,159.0" fill="#fff"/>
<polygon points="381.5,57.5 383.0,58.0 385.4,56.5 387.7,55.0 390.0,56.7 392.3,58.0 394.6,55.2 397.0,52.0 399.2,54.5 401.5,58.0 403.8,54.3 406.0,52.0 407.6,52.8 409.2,53.7 410.8,55.0 412.9,55.4 414.9,55.3 417.0,55.0 419.2,53.6 421.5,52.0 423.0,38.0 425.0,38.1 427.0,38.2 429.0,38.0 430.6,35.3 432.3,33.6 434.4,34.0 436.4,34.1 438.5,35.0 440.8,31.1 443.0,26.0 445.4,26.1 447.7,27.5 450.8,18.0 453.8,24.4 457.0,21.3 459.2,24.1 461.5,26.0 463.0,39.8 464.2,47.8 463.2,55.8 464.6,71.5 465.4,87.0 467.0,99.0 470.0,108.5 475.4,116.0 486.0,123.0 499.5,129.3 416.2,157.7 407.3,154.4 399.6,150.4 392.0,144.6 386.2,137.4 382.6,129.0 381.7,119.0 381.5,57.5" fill="url(#surf)"/>
<polygon points="381.5,57.5 383.0,58.0 385.4,56.5 387.7,55.0 390.0,56.7 392.3,58.0 394.6,55.2 397.0,52.0 399.2,54.5 401.5,58.0 403.8,54.3 406.0,52.0 407.6,52.8 409.2,53.7 410.8,55.0 412.9,55.4 414.9,55.3 417.0,55.0 419.2,53.6 421.5,52.0 423.0,38.0 425.0,38.1 427.0,38.2 429.0,38.0 430.6,35.3 432.3,33.6 434.4,34.0 436.4,34.1 438.5,35.0 440.8,31.1 443.0,26.0 445.4,26.1 447.7,27.5 450.8,18.0 453.8,24.4 457.0,21.3 459.2,24.1 461.5,26.0 463.0,39.8 464.2,47.8 463.2,55.8 464.6,71.5 465.4,87.0 467.0,99.0 470.0,108.5 475.4,116.0 486.0,123.0 499.5,129.3 416.2,157.7 407.3,154.4 399.6,150.4 392.0,144.6 386.2,137.4 382.6,129.0 381.7,119.0 381.5,57.5" fill="url(#purp)"/>
<polygon points="382.5,105.0 465.0,78.0 468.0,100.0 476.0,116.0 492.0,122.0 470.0,129.0 440.0,135.0 416.0,142.0 401.0,149.0 392.0,144.6 386.2,137.4 382.6,129.0" fill="url(#spk)"/>
<polygon points="382.5,125.0 470.0,110.0 486.0,123.5 499.5,129.3 416.2,157.7 400.0,151.0 390.0,143.0 384.0,133.0" fill="url(#spk2)"/>

<g stroke="#111" stroke-width="1.9" fill="none">
<path d="M343.5 125.8L413.8 160.3"/>
<path d="M343.9 125.6l-4.6 2.2" stroke-width="1.6"/>
<path d="M357.1 132.1l-4.6 2.2" stroke-width="1.6"/>
<path d="M370.3 138.6l-4.6 2.2" stroke-width="1.6"/>
<path d="M383.6 145.2l-4.6 2.2" stroke-width="1.6"/>
<path d="M396.8 151.7l-4.6 2.2" stroke-width="1.6"/>
<path d="M410.0 158.2l-4.6 2.2" stroke-width="1.6"/>
</g>
<path d="M417.7 162.3L501 131.6" stroke="#222" stroke-width="1.2"/>
<path d="M505.8 130.9l-5 -.9l2 4.4z" fill="#111"/>
<text x="0" y="3.7" text-anchor="middle" transform="translate(328.0 133.4) rotate(-25)">900</text>
<text x="0" y="3.7" text-anchor="middle" transform="translate(338.4 141.0) rotate(-25)">1000</text>
<text x="0" y="3.7" text-anchor="middle" transform="translate(351.7 149.0) rotate(-25)">1100</text>
<text x="0" y="3.7" text-anchor="middle" transform="translate(364.4 157.0) rotate(-25)">1200</text>
<text x="0" y="3.7" text-anchor="middle" transform="translate(379.2 162.8) rotate(-25)">1300</text>
<text x="0" y="3.7" text-anchor="middle" transform="translate(394.3 169.2) rotate(-25)">1400</text>
<text x="0" y="3.7" text-anchor="middle" font-style="italic" transform="translate(342.6 168) rotate(37)">λ (nm)</text>
<text x="0" y="3.7" text-anchor="middle" transform="translate(468.5 155) rotate(-20)">Line Scan</text>
<text x="518.2" y="80.6" text-anchor="middle" style="font-size:10.4px" transform="rotate(-90 518.2 80.6)">Intensity (arb. units)</text>
<text fill="#8c1414" style="font-size:10.3px" transform="translate(347 39.6) rotate(-17.3)">827nm Excitation</text>
<text fill="#000" style="font-size:10.3px" transform="translate(351 50.8) rotate(-17.3)">200ms</text>

</g>
<g transform="translate(0 758.3)">
<g stroke="#666" stroke-width=".9" fill="none">
<path d="M343.5 28.8L428.7 1.0L500.6 33.0h2.4"/>
<path d="M343.5 48.2L428.7 20.4L500.6 52.4h2.4"/>
<path d="M343.5 67.6L428.7 39.8L500.6 71.8h2.4"/>
<path d="M343.5 87.0L428.7 59.2L500.6 91.2h2.4"/>
<path d="M343.5 106.4L428.7 78.6L500.6 110.6h2.4"/>
<path d="M343.5 125.8L428.7 98.0L500.6 130.0h2.4"/>
<path d="M343.5 28.8V125.8M428.7 1V98M500.6 33V130"/>
</g>
<polygon points="343.5,125.8 416.2,157.7 499.5,129.3 428.7,98.0" fill="#5a00ff"/>
<polygon points="344.0,126.5 344.0,120.5 348.0,119.0 352.0,120.0 356.0,118.0 360.0,116.5 363.0,112.0 365.0,106.3 368.8,85.2 371.7,69.8 374.6,58.2 375.6,57.3 378.0,58.3 381.4,61.1 381.4,123.0 361.0,130.0 347.0,129.0" fill="url(#subg)"/>
<polygon points="344.0,126.5 344.0,120.5 348.0,119.0 352.0,120.0 356.0,118.0 360.0,116.5 363.0,112.0 365.0,106.3 368.8,85.2 371.7,69.8 374.6,58.2 375.6,57.3 378.0,58.3 381.4,61.1 381.4,123.0 361.0,130.0 347.0,129.0" fill="url(#spk)" clip-path="url(#subclip)"/>
<polygon points="347.0,129.0 361.0,130.0 380.4,123.8 380.4,126.0 384.0,138.0 389.0,145.0 398.0,151.5 408.0,157.0 412.0,159.0" fill="#fff"/>
<polygon points="380.4,61.1 382.3,56.0 384.2,53.6 387.1,52.1 390.0,51.4 392.6,50.7 395.1,49.6 397.7,49.0 400.0,48.7 402.3,48.4 404.6,47.2 406.9,46.7 409.2,47.0 411.8,46.6 414.4,45.0 417.0,44.5 419.4,43.8 421.8,44.4 424.1,43.3 426.5,43.0 428.8,42.0 431.0,40.0 433.1,38.0 435.2,36.0 439.0,39.0 441.4,38.9 443.8,38.4 445.9,37.2 448.0,37.2 450.0,36.9 452.1,35.7 454.2,35.0 456.8,34.4 459.4,33.2 462.9,36.7 464.0,45.0 465.3,61.0 467.0,88.6 471.0,102.0 477.7,111.5 488.5,118.2 500.0,123.5 499.5,129.3 416.2,157.7 407.3,154.4 399.6,150.4 392.0,144.6 386.2,137.4 382.6,129.0 380.6,119.0 380.4,61.1" fill="url(#surfc)"/>
<polygon points="380.4,61.1 382.3,56.0 384.2,53.6 387.1,52.1 390.0,51.4 392.6,50.7 395.1,49.6 397.7,49.0 400.0,48.7 402.3,48.4 404.6,47.2 406.9,46.7 409.2,47.0 411.8,46.6 414.4,45.0 417.0,44.5 419.4,43.8 421.8,44.4 424.1,43.3 426.5,43.0 428.8,42.0 431.0,40.0 433.1,38.0 435.2,36.0 439.0,39.0 441.4,38.9 443.8,38.4 445.9,37.2 448.0,37.2 450.0,36.9 452.1,35.7 454.2,35.0 456.8,34.4 459.4,33.2 462.9,36.7 464.0,45.0 465.3,61.0 467.0,88.6 471.0,102.0 477.7,111.5 488.5,118.2 500.0,123.5 499.5,129.3 416.2,157.7 407.3,154.4 399.6,150.4 392.0,144.6 386.2,137.4 382.6,129.0 380.6,119.0 380.4,61.1" fill="url(#purpc)"/>
<polygon points="381.4,105.0 465.0,78.0 468.0,100.0 476.0,116.0 492.0,122.0 470.0,129.0 440.0,135.0 416.0,142.0 401.0,149.0 392.0,144.6 386.2,137.4 382.6,129.0" fill="url(#spk)"/>
<polygon points="381.4,125.0 470.0,110.0 486.0,123.5 499.5,129.3 416.2,157.7 400.0,151.0 390.0,143.0 384.0,133.0" fill="url(#spk2)"/>
<path d="M364.2 104L364.7 84L365.4 100Z" fill="#40d8e8"/>
<g stroke="#111" stroke-width="1.9" fill="none">
<path d="M343.5 125.8L413.8 160.3"/>
<path d="M343.9 125.6l-4.6 2.2" stroke-width="1.6"/>
<path d="M357.1 132.1l-4.6 2.2" stroke-width="1.6"/>
<path d="M370.3 138.6l-4.6 2.2" stroke-width="1.6"/>
<path d="M383.6 145.2l-4.6 2.2" stroke-width="1.6"/>
<path d="M396.8 151.7l-4.6 2.2" stroke-width="1.6"/>
<path d="M410.0 158.2l-4.6 2.2" stroke-width="1.6"/>
</g>
<path d="M417.7 162.3L501 131.6" stroke="#222" stroke-width="1.2"/>
<path d="M505.8 130.9l-5 -.9l2 4.4z" fill="#111"/>
<text x="0" y="3.7" text-anchor="middle" transform="translate(328.0 133.4) rotate(-25)">900</text>
<text x="0" y="3.7" text-anchor="middle" transform="translate(338.4 141.0) rotate(-25)">1000</text>
<text x="0" y="3.7" text-anchor="middle" transform="translate(351.7 149.0) rotate(-25)">1100</text>
<text x="0" y="3.7" text-anchor="middle" transform="translate(364.4 157.0) rotate(-25)">1200</text>
<text x="0" y="3.7" text-anchor="middle" transform="translate(379.2 162.8) rotate(-25)">1300</text>
<text x="0" y="3.7" text-anchor="middle" transform="translate(394.3 169.2) rotate(-25)">1400</text>
<text x="0" y="3.7" text-anchor="middle" font-style="italic" transform="translate(342.6 168) rotate(37)">λ (nm)</text>
<text x="0" y="3.7" text-anchor="middle" transform="translate(468.5 155) rotate(-20)">Line Scan</text>
<text x="518.2" y="80.6" text-anchor="middle" style="font-size:10.4px" transform="rotate(-90 518.2 80.6)">Intensity (arb. units)</text>
<text fill="#e81018" style="font-size:10.3px" transform="translate(347 39.6) rotate(-17.3)">650nm Excitation</text>
<text fill="#000" style="font-size:10.3px" transform="translate(351 50.8) rotate(-17.3)">1000ms</text>
<g transform="translate(0 0)"><g fill="#2222b8" stroke="#2222b8"><path d="M380.8 43V56" stroke-width="2"/><path d="M377.5 54.2L380.8 61L384.1 54.2Z" stroke="none"/><path d="M458.7 15V28.5" stroke-width="2"/><path d="M455.4 26.8L458.7 33.6L462 26.8Z" stroke="none"/></g><text x="501" y="4.3" fill="#2222b8" text-anchor="end">Intensity</text><text x="501" y="16.9" fill="#2222b8" text-anchor="end">Drop</text></g>
</g>
<g transform="translate(0 931.8)">
<g stroke="#666" stroke-width=".9" fill="none">
<path d="M343.5 28.8L428.7 1.0L500.6 33.0h2.4"/>
<path d="M343.5 53.0L428.7 25.2L500.6 57.2h2.4"/>
<path d="M343.5 77.3L428.7 49.5L500.6 81.5h2.4"/>
<path d="M343.5 101.5L428.7 73.8L500.6 105.8h2.4"/>
<path d="M343.5 125.8L428.7 98.0L500.6 130.0h2.4"/>
<path d="M343.5 28.8V125.8M428.7 1V98M500.6 33V130"/>
</g>
<polygon points="343.5,125.8 416.2,157.7 499.5,129.3 428.7,98.0" fill="#8a00ff"/>
<polygon points="363.0,122.3 365.4,116.0 367.7,104.0 370.0,88.0 372.0,72.0 374.0,62.0 376.3,58.0 378.5,61.0 381.8,66.7 381.8,121.0" fill="url(#subg)"/>
<polygon points="363.0,122.3 365.4,116.0 367.7,104.0 370.0,88.0 372.0,72.0 374.0,62.0 376.3,58.0 378.5,61.0 381.8,66.7 381.8,121.0" fill="url(#spk)" clip-path="url(#subclip)"/>
<polygon points="347.0,129.0 361.0,130.0 380.8,123.8 380.8,126.0 384.0,138.0 389.0,145.0 398.0,151.5 408.0,157.0 412.0,159.0" fill="#fff"/>
<polygon points="380.8,66.7 383.0,60.0 386.7,56.3 388.9,54.7 391.0,53.3 393.2,52.2 395.4,51.0 397.7,50.3 400.0,49.8 402.3,49.8 404.6,49.9 406.9,49.4 409.2,48.7 411.4,48.4 413.5,47.3 415.7,47.0 417.9,46.2 420.0,45.6 422.2,44.9 424.3,44.5 426.5,44.2 428.7,44.1 430.8,43.4 433.0,42.8 435.1,42.3 437.3,41.1 439.5,40.6 441.6,40.4 443.8,39.7 445.8,39.2 447.9,38.7 449.9,38.0 451.9,36.5 454.0,36.3 456.0,35.5 458.7,40.7 461.8,39.0 463.0,47.0 463.2,55.0 464.6,71.5 465.4,87.0 467.0,99.0 470.0,108.5 475.4,116.0 486.0,123.0 499.5,129.3 416.2,157.7 407.3,154.4 399.6,150.4 392.0,144.6 386.2,137.4 382.6,129.0 381.0,119.0 380.8,66.7" fill="url(#surf)"/>
<polygon points="380.8,66.7 383.0,60.0 386.7,56.3 388.9,54.7 391.0,53.3 393.2,52.2 395.4,51.0 397.7,50.3 400.0,49.8 402.3,49.8 404.6,49.9 406.9,49.4 409.2,48.7 411.4,48.4 413.5,47.3 415.7,47.0 417.9,46.2 420.0,45.6 422.2,44.9 424.3,44.5 426.5,44.2 428.7,44.1 430.8,43.4 433.0,42.8 435.1,42.3 437.3,41.1 439.5,40.6 441.6,40.4 443.8,39.7 445.8,39.2 447.9,38.7 449.9,38.0 451.9,36.5 454.0,36.3 456.0,35.5 458.7,40.7 461.8,39.0 463.0,47.0 463.2,55.0 464.6,71.5 465.4,87.0 467.0,99.0 470.0,108.5 475.4,116.0 486.0,123.0 499.5,129.3 416.2,157.7 407.3,154.4 399.6,150.4 392.0,144.6 386.2,137.4 382.6,129.0 381.0,119.0 380.8,66.7" fill="url(#purp)"/>
<polygon points="381.8,105.0 465.0,78.0 468.0,100.0 476.0,116.0 492.0,122.0 470.0,129.0 440.0,135.0 416.0,142.0 401.0,149.0 392.0,144.6 386.2,137.4 382.6,129.0" fill="url(#spk)"/>
<polygon points="381.8,125.0 470.0,110.0 486.0,123.5 499.5,129.3 416.2,157.7 400.0,151.0 390.0,143.0 384.0,133.0" fill="url(#spk2)"/>

<g stroke="#111" stroke-width="1.9" fill="none">
<path d="M343.5 125.8L413.8 160.3"/>
<path d="M343.9 125.6l-4.6 2.2" stroke-width="1.6"/>
<path d="M357.1 132.1l-4.6 2.2" stroke-width="1.6"/>
<path d="M370.3 138.6l-4.6 2.2" stroke-width="1.6"/>
<path d="M383.6 145.2l-4.6 2.2" stroke-width="1.6"/>
<path d="M396.8 151.7l-4.6 2.2" stroke-width="1.6"/>
<path d="M410.0 158.2l-4.6 2.2" stroke-width="1.6"/>
</g>
<path d="M417.7 162.3L501 131.6" stroke="#222" stroke-width="1.2"/>
<path d="M505.8 130.9l-5 -.9l2 4.4z" fill="#111"/>
<text x="0" y="3.7" text-anchor="middle" transform="translate(328.0 133.4) rotate(-25)">900</text>
<text x="0" y="3.7" text-anchor="middle" transform="translate(338.4 141.0) rotate(-25)">1000</text>
<text x="0" y="3.7" text-anchor="middle" transform="translate(351.7 149.0) rotate(-25)">1100</text>
<text x="0" y="3.7" text-anchor="middle" transform="translate(364.4 157.0) rotate(-25)">1200</text>
<text x="0" y="3.7" text-anchor="middle" transform="translate(379.2 162.8) rotate(-25)">1300</text>
<text x="0" y="3.7" text-anchor="middle" transform="translate(394.3 169.2) rotate(-25)">1400</text>
<text x="0" y="3.7" text-anchor="middle" font-style="italic" transform="translate(342.6 168) rotate(37)">λ (nm)</text>
<text x="0" y="3.7" text-anchor="middle" transform="translate(468.5 155) rotate(-20)">Line Scan</text>
<text x="518.2" y="80.6" text-anchor="middle" style="font-size:10.4px" transform="rotate(-90 518.2 80.6)">Intensity (arb. units)</text>
<text fill="#8c1414" style="font-size:10.3px" transform="translate(347 39.6) rotate(-17.3)">827nm Excitation</text>
<text fill="#000" style="font-size:10.3px" transform="translate(351 50.8) rotate(-17.3)">200ms</text>
<g transform="translate(0 5.7)"><g fill="#2222b8" stroke="#2222b8"><path d="M380.8 43V56" stroke-width="2"/><path d="M377.5 54.2L380.8 61L384.1 54.2Z" stroke="none"/><path d="M458.7 15V28.5" stroke-width="2"/><path d="M455.4 26.8L458.7 33.6L462 26.8Z" stroke="none"/></g><text x="501" y="4.3" fill="#2222b8" text-anchor="end">Intensity</text><text x="501" y="16.9" fill="#2222b8" text-anchor="end">Drop</text></g>
</g>
<text x="0" y="14.7" style="font-size:11px">(a)</text>
<rect x="18.8" y="1.6" width="59.2" height="17.0" fill="#1a14c4"/>
<text x="25.2" y="15.2" fill="#fff" style="font-size:11.6px">Wafer A</text>
<text x="0" y="391.7" style="font-size:11px">(b)</text>
<rect x="18.8" y="378.2" width="59.2" height="19.2" fill="#f21ce6"/>
<text x="25.2" y="392.2" fill="#fff" style="font-size:11.6px">Wafer B</text>
<text x="0" y="771.7" style="font-size:11px">(c)</text>
<rect x="18.8" y="758.2" width="59.2" height="18.0" fill="#f41414"/>
<text x="25.2" y="772.2" fill="#fff" style="font-size:11.6px">Wafer D</text>
</svg>
</body>
</html>
